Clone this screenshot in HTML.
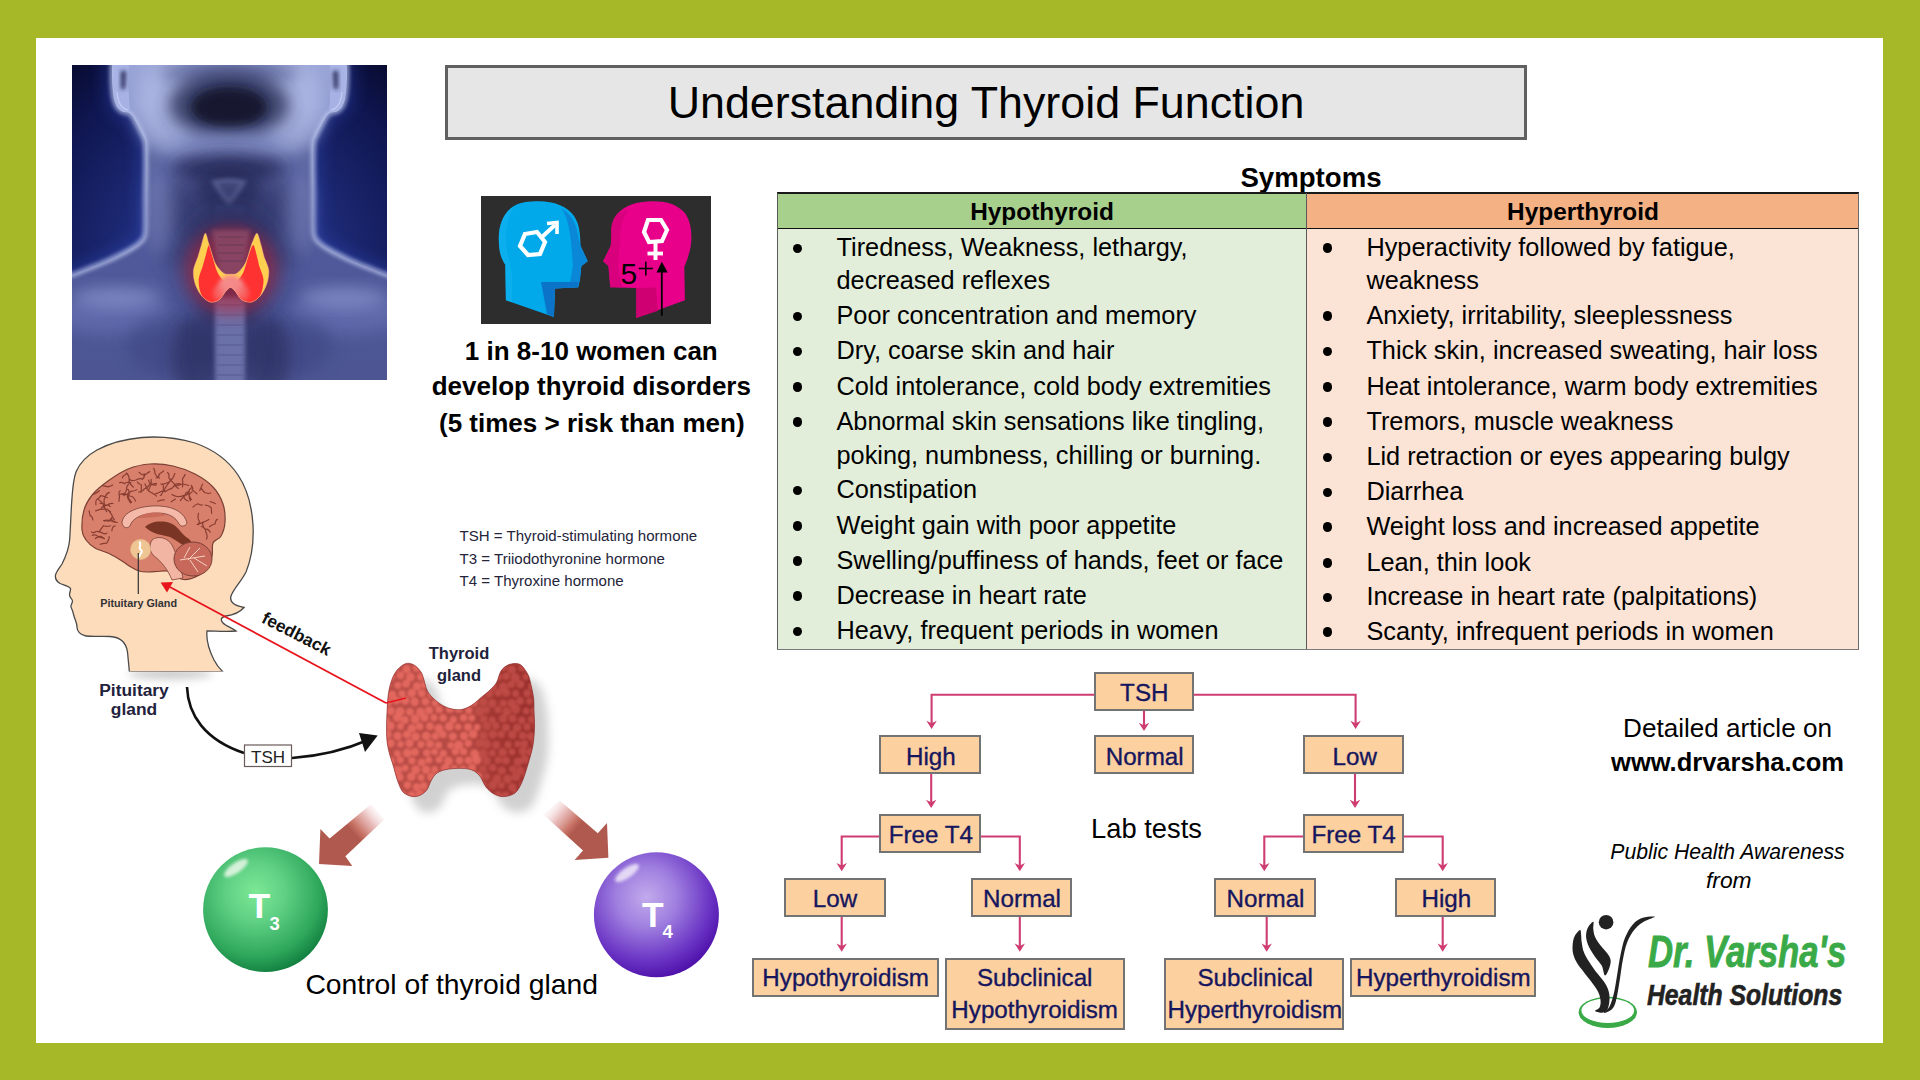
<!DOCTYPE html>
<html><head><meta charset="utf-8"><title>Understanding Thyroid Function</title>
<style>
html,body{margin:0;padding:0}
body{width:1920px;height:1080px;position:relative;overflow:hidden;background:#a6b828;font-family:"Liberation Sans", sans-serif;color:#000}
.t{position:absolute;white-space:nowrap}
.bl{position:absolute;width:9.8px;height:9.8px;border-radius:50%;background:#000}
</style></head><body>
<div style="position:absolute;left:36px;top:38px;width:1847px;height:1005px;background:#fff"></div>
<svg width="315" height="315" viewBox="0 0 315 315" style="position:absolute;left:72px;top:65px"><defs>
<radialGradient id="pbg" cx="0.5" cy="0.62" r="0.8"><stop offset="0" stop-color="#2a3c98"/><stop offset="0.45" stop-color="#1c2872"/><stop offset="0.8" stop-color="#0f1650"/><stop offset="1" stop-color="#080b30"/></radialGradient>
<linearGradient id="pbody" x1="0" y1="0" x2="0" y2="1"><stop offset="0" stop-color="#a3addc"/><stop offset="0.2" stop-color="#8e99cf"/><stop offset="0.33" stop-color="#5f69a3"/><stop offset="0.6" stop-color="#50599a"/><stop offset="1" stop-color="#4c5591"/></linearGradient>
<filter id="b2" x="-50%" y="-50%" width="200%" height="200%"><feGaussianBlur stdDeviation="2"/></filter>
<filter id="b4" x="-50%" y="-50%" width="200%" height="200%"><feGaussianBlur stdDeviation="4"/></filter>
<filter id="b8" x="-50%" y="-50%" width="200%" height="200%"><feGaussianBlur stdDeviation="8"/></filter>
<filter id="b12" x="-50%" y="-50%" width="200%" height="200%"><feGaussianBlur stdDeviation="12"/></filter>
<clipPath id="pclip"><rect width="315" height="315"/></clipPath>
</defs><g clip-path="url(#pclip)"><rect width="315" height="315" fill="url(#pbg)"/><path d="M40.5,-30.0 C13.2,-27.4 40.6,-12.4 40.5,-8.0 C40.4,-3.6 40.0,4.5 40.0,8.0 C40.0,11.5 40.3,19.0 40.5,22.0 C40.7,25.0 41.5,31.7 42.0,34.0 C42.5,36.3 44.1,40.5 45.0,42.0 C45.9,43.5 48.6,45.8 50.0,46.5 C51.4,47.2 55.7,47.4 57.0,48.0 C58.3,48.6 60.0,50.5 61.0,52.0 C62.0,53.5 64.8,58.8 66.0,61.0 C67.2,63.2 70.1,68.8 71.0,71.0 C71.9,73.2 73.2,73.1 73.5,80.0 C73.8,86.9 73.6,119.5 73.5,130.0 C73.4,140.5 74.3,163.9 73.0,170.0 C71.7,176.1 66.4,179.0 62.0,182.0 C57.6,185.0 42.2,192.7 35.0,196.0 C27.8,199.3 5.2,207.8 0.0,210.0 C-5.2,212.2 -8.8,201.0 -10.0,215.0 C-11.2,229.0 -49.1,316.6 -10.0,330.0 C29.1,343.4 285.9,343.4 325.0,330.0 C364.1,316.6 326.2,229.0 325.0,215.0 C323.8,201.0 320.2,212.2 315.0,210.0 C309.8,207.8 287.2,199.3 280.0,196.0 C272.8,192.7 257.4,185.0 253.0,182.0 C248.6,179.0 243.3,176.1 242.0,170.0 C240.7,163.9 241.6,140.5 241.5,130.0 C241.4,119.5 241.2,86.9 241.5,80.0 C241.8,73.1 243.1,73.2 244.0,71.0 C244.9,68.8 247.8,63.2 249.0,61.0 C250.2,58.8 252.9,53.5 254.0,52.0 C255.1,50.5 256.7,48.6 258.0,48.0 C259.3,47.4 263.6,47.2 265.0,46.5 C266.4,45.8 269.1,43.5 270.0,42.0 C270.9,40.5 272.5,36.3 273.0,34.0 C273.5,31.7 274.3,25.0 274.5,22.0 C274.7,19.0 275.0,11.5 275.0,8.0 C275.0,4.5 274.6,-3.6 274.5,-8.0 C274.4,-12.4 301.8,-27.4 274.5,-30.0 C247.2,-32.6 67.8,-32.6 40.5,-30.0 Z" fill="none" stroke="#3450c8" stroke-width="14" opacity="0.38" filter="url(#b8)"/><path d="M40.5,-30.0 C13.2,-27.4 40.6,-12.4 40.5,-8.0 C40.4,-3.6 40.0,4.5 40.0,8.0 C40.0,11.5 40.3,19.0 40.5,22.0 C40.7,25.0 41.5,31.7 42.0,34.0 C42.5,36.3 44.1,40.5 45.0,42.0 C45.9,43.5 48.6,45.8 50.0,46.5 C51.4,47.2 55.7,47.4 57.0,48.0 C58.3,48.6 60.0,50.5 61.0,52.0 C62.0,53.5 64.8,58.8 66.0,61.0 C67.2,63.2 70.1,68.8 71.0,71.0 C71.9,73.2 73.2,73.1 73.5,80.0 C73.8,86.9 73.6,119.5 73.5,130.0 C73.4,140.5 74.3,163.9 73.0,170.0 C71.7,176.1 66.4,179.0 62.0,182.0 C57.6,185.0 42.2,192.7 35.0,196.0 C27.8,199.3 5.2,207.8 0.0,210.0 C-5.2,212.2 -8.8,201.0 -10.0,215.0 C-11.2,229.0 -49.1,316.6 -10.0,330.0 C29.1,343.4 285.9,343.4 325.0,330.0 C364.1,316.6 326.2,229.0 325.0,215.0 C323.8,201.0 320.2,212.2 315.0,210.0 C309.8,207.8 287.2,199.3 280.0,196.0 C272.8,192.7 257.4,185.0 253.0,182.0 C248.6,179.0 243.3,176.1 242.0,170.0 C240.7,163.9 241.6,140.5 241.5,130.0 C241.4,119.5 241.2,86.9 241.5,80.0 C241.8,73.1 243.1,73.2 244.0,71.0 C244.9,68.8 247.8,63.2 249.0,61.0 C250.2,58.8 252.9,53.5 254.0,52.0 C255.1,50.5 256.7,48.6 258.0,48.0 C259.3,47.4 263.6,47.2 265.0,46.5 C266.4,45.8 269.1,43.5 270.0,42.0 C270.9,40.5 272.5,36.3 273.0,34.0 C273.5,31.7 274.3,25.0 274.5,22.0 C274.7,19.0 275.0,11.5 275.0,8.0 C275.0,4.5 274.6,-3.6 274.5,-8.0 C274.4,-12.4 301.8,-27.4 274.5,-30.0 C247.2,-32.6 67.8,-32.6 40.5,-30.0 Z" fill="url(#pbody)"/><path d="M40.5,-30.0 C13.2,-27.4 40.6,-12.4 40.5,-8.0 C40.4,-3.6 40.0,4.5 40.0,8.0 C40.0,11.5 40.3,19.0 40.5,22.0 C40.7,25.0 41.5,31.7 42.0,34.0 C42.5,36.3 44.1,40.5 45.0,42.0 C45.9,43.5 48.6,45.8 50.0,46.5 C51.4,47.2 55.7,47.4 57.0,48.0 C58.3,48.6 60.0,50.5 61.0,52.0 C62.0,53.5 64.8,58.8 66.0,61.0 C67.2,63.2 70.1,68.8 71.0,71.0 C71.9,73.2 73.2,73.1 73.5,80.0 C73.8,86.9 73.6,119.5 73.5,130.0 C73.4,140.5 74.3,163.9 73.0,170.0 C71.7,176.1 66.4,179.0 62.0,182.0 C57.6,185.0 42.2,192.7 35.0,196.0 C27.8,199.3 5.2,207.8 0.0,210.0 C-5.2,212.2 -8.8,201.0 -10.0,215.0 C-11.2,229.0 -49.1,316.6 -10.0,330.0 C29.1,343.4 285.9,343.4 325.0,330.0 C364.1,316.6 326.2,229.0 325.0,215.0 C323.8,201.0 320.2,212.2 315.0,210.0 C309.8,207.8 287.2,199.3 280.0,196.0 C272.8,192.7 257.4,185.0 253.0,182.0 C248.6,179.0 243.3,176.1 242.0,170.0 C240.7,163.9 241.6,140.5 241.5,130.0 C241.4,119.5 241.2,86.9 241.5,80.0 C241.8,73.1 243.1,73.2 244.0,71.0 C244.9,68.8 247.8,63.2 249.0,61.0 C250.2,58.8 252.9,53.5 254.0,52.0 C255.1,50.5 256.7,48.6 258.0,48.0 C259.3,47.4 263.6,47.2 265.0,46.5 C266.4,45.8 269.1,43.5 270.0,42.0 C270.9,40.5 272.5,36.3 273.0,34.0 C273.5,31.7 274.3,25.0 274.5,22.0 C274.7,19.0 275.0,11.5 275.0,8.0 C275.0,4.5 274.6,-3.6 274.5,-8.0 C274.4,-12.4 301.8,-27.4 274.5,-30.0 C247.2,-32.6 67.8,-32.6 40.5,-30.0 Z" fill="none" stroke="#d0dafc" stroke-width="4" opacity="0.8" filter="url(#b2)"/><ellipse cx="95" cy="40" rx="32" ry="45" fill="#b8c2ea" opacity="0.6" filter="url(#b8)"/><ellipse cx="220" cy="40" rx="32" ry="45" fill="#b8c2ea" opacity="0.6" filter="url(#b8)"/><ellipse cx="157" cy="8" rx="70" ry="14" fill="#4a5288" opacity="0.6" filter="url(#b8)"/><ellipse cx="157" cy="40" rx="60" ry="33" fill="#2c3058" opacity="0.85" filter="url(#b8)"/><ellipse cx="157" cy="42" rx="38" ry="20" fill="#12142e" opacity="0.95" filter="url(#b4)"/><ellipse cx="157" cy="82" rx="70" ry="14" fill="#8c97cc" opacity="0.6" filter="url(#b8)"/><ellipse cx="157" cy="104" rx="56" ry="15" fill="#262b5a" opacity="0.85" filter="url(#b8)"/><ellipse cx="105" cy="160" rx="22" ry="45" fill="#3a4278" opacity="0.6" filter="url(#b8)"/><ellipse cx="210" cy="160" rx="22" ry="45" fill="#3a4278" opacity="0.6" filter="url(#b8)"/><ellipse cx="157" cy="128" rx="32" ry="22" fill="#1e2048" opacity="0.6" filter="url(#b8)"/><path d="M139,116 Q157,111 175,116 Q168,128 157,142 Q146,128 139,116 Z" fill="#8088bc" filter="url(#b2)"/><path d="M146,119 Q157,116 168,119 Q162,127 157,134 Q152,127 146,119 Z" fill="#5a6094" filter="url(#b2)"/><rect x="143" y="140" width="30" height="40" fill="#5a62a0" opacity="0.7" filter="url(#b2)"/><ellipse cx="40" cy="250" rx="60" ry="18" fill="#6672b4" opacity="0.7" filter="url(#b8)"/><ellipse cx="275" cy="250" rx="60" ry="18" fill="#6672b4" opacity="0.7" filter="url(#b8)"/><ellipse cx="95" cy="280" rx="40" ry="30" fill="#3a4280" opacity="0.5" filter="url(#b8)"/><ellipse cx="220" cy="280" rx="40" ry="30" fill="#3a4280" opacity="0.5" filter="url(#b8)"/><ellipse cx="157" cy="145" rx="52" ry="42" fill="#262b5c" opacity="0.55" filter="url(#b12)"/><path d="M41,-2 C40,15 41,32 45,41 C48,46 53,47.5 58,47 C57,35 56,18 57,-2 Z" fill="#aab4e6" opacity="0.9"/><path d="M49,6 L54,6 L53,24 L49,24 Z" fill="#2a2f5c" filter="url(#b2)"/><path d="M45,27 C46,38 50,44 56,45" stroke="#d8e0ff" stroke-width="1.2" fill="none" opacity="0.6"/><path d="M274,-2 C275,15 274,32 270,41 C267,46 262,47.5 257,47 C258,35 259,18 258,-2 Z" fill="#aab4e6" opacity="0.9"/><path d="M266,6 L261,6 L262,24 L266,24 Z" fill="#2a2f5c" filter="url(#b2)"/><path d="M270,27 C269,38 265,44 259,45" stroke="#d8e0ff" stroke-width="1.2" fill="none" opacity="0.6"/><ellipse cx="159" cy="200" rx="48" ry="58" fill="#1c2050" opacity="0.55" filter="url(#b12)"/><ellipse cx="88" cy="150" rx="12" ry="40" fill="#8890c8" opacity="0.45" filter="url(#b8)"/><ellipse cx="228" cy="150" rx="12" ry="40" fill="#8890c8" opacity="0.45" filter="url(#b8)"/><ellipse cx="45" cy="232" rx="45" ry="10" fill="#9aa4dc" opacity="0.55" filter="url(#b8)"/><ellipse cx="272" cy="232" rx="45" ry="10" fill="#9aa4dc" opacity="0.55" filter="url(#b8)"/><ellipse cx="122" cy="292" rx="22" ry="40" fill="#262a58" opacity="0.6" filter="url(#b8)"/><ellipse cx="196" cy="292" rx="22" ry="40" fill="#262a58" opacity="0.6" filter="url(#b8)"/><ellipse cx="157" cy="270" rx="30" ry="60" fill="#2a2f60" opacity="0.6" filter="url(#b8)"/><rect x="143" y="232" width="30" height="90" rx="8" fill="#6a70a8" filter="url(#b2)"/><line x1="144" y1="240" x2="172" y2="240" stroke="#5a5f98" stroke-width="2" opacity="0.6"/><line x1="144" y1="250" x2="172" y2="250" stroke="#5a5f98" stroke-width="2" opacity="0.6"/><line x1="144" y1="260" x2="172" y2="260" stroke="#5a5f98" stroke-width="2" opacity="0.6"/><line x1="144" y1="270" x2="172" y2="270" stroke="#5a5f98" stroke-width="2" opacity="0.6"/><line x1="144" y1="280" x2="172" y2="280" stroke="#5a5f98" stroke-width="2" opacity="0.6"/><line x1="144" y1="290" x2="172" y2="290" stroke="#5a5f98" stroke-width="2" opacity="0.6"/><line x1="144" y1="300" x2="172" y2="300" stroke="#5a5f98" stroke-width="2" opacity="0.6"/><line x1="144" y1="310" x2="172" y2="310" stroke="#5a5f98" stroke-width="2" opacity="0.6"/><ellipse cx="159" cy="205" rx="46" ry="44" fill="#c02030" opacity="0.55" filter="url(#b8)"/><path d="M140,165 L178,165 L170,212 L148,212 Z" fill="#8a4a66" opacity="0.85" filter="url(#b2)"/><line x1="146" y1="172" x2="172" y2="172" stroke="#6a3a58" stroke-width="1.5" opacity="0.7"/><line x1="146" y1="180" x2="172" y2="180" stroke="#6a3a58" stroke-width="1.5" opacity="0.7"/><line x1="146" y1="188" x2="172" y2="188" stroke="#6a3a58" stroke-width="1.5" opacity="0.7"/><line x1="146" y1="196" x2="172" y2="196" stroke="#6a3a58" stroke-width="1.5" opacity="0.7"/><clipPath id="bfc"><path d="M133.3,168.3 C134.4,168.0 135.2,173.8 136.7,178.3 C138.2,182.8 141.1,193.8 143.3,198.3 C145.6,202.8 149.4,206.7 151.7,208.3 C153.9,209.9 156.3,209.2 158.3,209.2 C160.3,209.2 162.8,209.9 165.0,208.3 C167.2,206.7 171.1,202.8 173.3,198.3 C175.6,193.8 178.2,182.8 180.0,178.3 C181.8,173.8 183.7,168.0 185.0,168.3 C186.3,168.6 187.9,176.5 189.0,180.0 C190.1,183.5 190.8,187.9 192.0,191.7 C193.2,195.4 196.2,201.0 196.7,205.0 C197.1,209.0 196.2,214.6 195.0,218.3 C193.8,222.1 191.2,227.2 189.0,230.0 C186.8,232.8 182.8,236.2 180.0,237.0 C177.2,237.8 172.6,236.7 170.0,235.0 C167.4,233.3 164.7,227.9 163.0,226.0 C161.3,224.1 159.8,222.5 158.5,222.5 C157.2,222.5 155.7,224.1 154.0,226.0 C152.3,227.9 149.4,233.3 147.0,235.0 C144.6,236.7 140.7,237.8 138.0,237.0 C135.3,236.2 131.2,232.8 129.0,230.0 C126.8,227.2 124.1,222.1 123.0,218.3 C121.9,214.6 121.0,209.0 121.5,205.0 C122.0,201.0 124.8,195.4 126.0,191.7 C127.2,187.9 128.4,183.5 129.5,180.0 C130.6,176.5 132.2,168.6 133.3,168.3 Z"/></clipPath><path d="M133.3,168.3 C134.4,168.0 135.2,173.8 136.7,178.3 C138.2,182.8 141.1,193.8 143.3,198.3 C145.6,202.8 149.4,206.7 151.7,208.3 C153.9,209.9 156.3,209.2 158.3,209.2 C160.3,209.2 162.8,209.9 165.0,208.3 C167.2,206.7 171.1,202.8 173.3,198.3 C175.6,193.8 178.2,182.8 180.0,178.3 C181.8,173.8 183.7,168.0 185.0,168.3 C186.3,168.6 187.9,176.5 189.0,180.0 C190.1,183.5 190.8,187.9 192.0,191.7 C193.2,195.4 196.2,201.0 196.7,205.0 C197.1,209.0 196.2,214.6 195.0,218.3 C193.8,222.1 191.2,227.2 189.0,230.0 C186.8,232.8 182.8,236.2 180.0,237.0 C177.2,237.8 172.6,236.7 170.0,235.0 C167.4,233.3 164.7,227.9 163.0,226.0 C161.3,224.1 159.8,222.5 158.5,222.5 C157.2,222.5 155.7,224.1 154.0,226.0 C152.3,227.9 149.4,233.3 147.0,235.0 C144.6,236.7 140.7,237.8 138.0,237.0 C135.3,236.2 131.2,232.8 129.0,230.0 C126.8,227.2 124.1,222.1 123.0,218.3 C121.9,214.6 121.0,209.0 121.5,205.0 C122.0,201.0 124.8,195.4 126.0,191.7 C127.2,187.9 128.4,183.5 129.5,180.0 C130.6,176.5 132.2,168.6 133.3,168.3 Z" fill="#ffd050"/><g clip-path="url(#bfc)"><path d="M133.3,168.3 C134.4,168.0 135.2,173.8 136.7,178.3 C138.2,182.8 141.1,193.8 143.3,198.3 C145.6,202.8 149.4,206.7 151.7,208.3 C153.9,209.9 156.3,209.2 158.3,209.2 C160.3,209.2 162.8,209.9 165.0,208.3 C167.2,206.7 171.1,202.8 173.3,198.3 C175.6,193.8 178.2,182.8 180.0,178.3 C181.8,173.8 183.7,168.0 185.0,168.3 C186.3,168.6 187.9,176.5 189.0,180.0 C190.1,183.5 190.8,187.9 192.0,191.7 C193.2,195.4 196.2,201.0 196.7,205.0 C197.1,209.0 196.2,214.6 195.0,218.3 C193.8,222.1 191.2,227.2 189.0,230.0 C186.8,232.8 182.8,236.2 180.0,237.0 C177.2,237.8 172.6,236.7 170.0,235.0 C167.4,233.3 164.7,227.9 163.0,226.0 C161.3,224.1 159.8,222.5 158.5,222.5 C157.2,222.5 155.7,224.1 154.0,226.0 C152.3,227.9 149.4,233.3 147.0,235.0 C144.6,236.7 140.7,237.8 138.0,237.0 C135.3,236.2 131.2,232.8 129.0,230.0 C126.8,227.2 124.1,222.1 123.0,218.3 C121.9,214.6 121.0,209.0 121.5,205.0 C122.0,201.0 124.8,195.4 126.0,191.7 C127.2,187.9 128.4,183.5 129.5,180.0 C130.6,176.5 132.2,168.6 133.3,168.3 Z" fill="#ff3232" transform="translate(159,222) scale(0.86,0.92) translate(-159,-214)"/><ellipse cx="159" cy="222" rx="13" ry="12" fill="#f58a8a" filter="url(#b2)"/><ellipse cx="147" cy="228" rx="6" ry="8" fill="#f47070" opacity="0.7" filter="url(#b2)"/><ellipse cx="171" cy="228" rx="6" ry="8" fill="#f47070" opacity="0.7" filter="url(#b2)"/></g><path d="M133.3,168.3 C134.4,168.0 135.2,173.8 136.7,178.3 C138.2,182.8 141.1,193.8 143.3,198.3 C145.6,202.8 149.4,206.7 151.7,208.3 C153.9,209.9 156.3,209.2 158.3,209.2 C160.3,209.2 162.8,209.9 165.0,208.3 C167.2,206.7 171.1,202.8 173.3,198.3 C175.6,193.8 178.2,182.8 180.0,178.3 C181.8,173.8 183.7,168.0 185.0,168.3 C186.3,168.6 187.9,176.5 189.0,180.0 C190.1,183.5 190.8,187.9 192.0,191.7 C193.2,195.4 196.2,201.0 196.7,205.0 C197.1,209.0 196.2,214.6 195.0,218.3 C193.8,222.1 191.2,227.2 189.0,230.0 C186.8,232.8 182.8,236.2 180.0,237.0 C177.2,237.8 172.6,236.7 170.0,235.0 C167.4,233.3 164.7,227.9 163.0,226.0 C161.3,224.1 159.8,222.5 158.5,222.5 C157.2,222.5 155.7,224.1 154.0,226.0 C152.3,227.9 149.4,233.3 147.0,235.0 C144.6,236.7 140.7,237.8 138.0,237.0 C135.3,236.2 131.2,232.8 129.0,230.0 C126.8,227.2 124.1,222.1 123.0,218.3 C121.9,214.6 121.0,209.0 121.5,205.0 C122.0,201.0 124.8,195.4 126.0,191.7 C127.2,187.9 128.4,183.5 129.5,180.0 C130.6,176.5 132.2,168.6 133.3,168.3 Z" fill="none" stroke="#ffb090" stroke-width="0.8" opacity="0.6"/></g></svg>
<svg width="230" height="128" viewBox="0 0 230 128" style="position:absolute;left:481px;top:196px"><rect width="230" height="128" fill="#2e2d2d"/><path d="M57,5.3 C72,5 86,10 93,20 C99,29 99,38 99.6,50 L106.7,65.2 L101,69.5 L100.2,71.1 L99,83 L97.2,91.3 L74.1,92.5 L72.9,121 L24.9,104.3 L24.3,68.8 C20,62 18,56 17.8,44 C17.5,28 23,16 33,10 C40,6 48,5.3 57,5.3 Z" fill="#02a9ea"/><path d="M80,12 C90,18 96,28 97,40 L99.6,50 L106.7,65.2 L101,69.5 L100.2,71.1 L99,83 L97.2,91.3 L88,91.8 L92,70 L90,45 C88,30 86,20 80,12 Z" fill="#0b87d8"/><path d="M60,86 L97,86 L97.2,91.3 L74.1,92.5 L72.9,121 L66,118 Z" fill="#0b74c8"/><path d="M24.9,104.3 L24.3,68.8 C20,62 18,56 17.8,44 C17.5,28 23,16 33,10 C27,22 24,34 25,48 C26,60 30,68 31,80 L31,106 Z" fill="#12b4f0" opacity="0.6"/><polygon points="44,38 56,36 64,46 59,58 47,59 39,50" fill="none" stroke="#fff" stroke-width="4.2" stroke-linejoin="miter"/><line x1="61" y1="41" x2="74" y2="29" stroke="#fff" stroke-width="4"/><path d="M66,27.5 L76,26.5 L76,38" fill="none" stroke="#fff" stroke-width="3.6"/><g transform="translate(115,0)"><path d="M56.9,5.3 C42,5.3 30,9 22,17 C16,24 15,30 15.4,38 L14.8,49.8 L7.1,65.2 L12.4,70 L13.6,83 L14.2,91.3 L40.3,91.9 L40.3,122.1 L88.9,104.3 L88.3,71.1 C92,62 95.4,52 95.4,42 C95.4,30 93,22 88,16 C80,8 70,5.3 56.9,5.3 Z" fill="#e8008a"/><path d="M22,17 C16,24 15,30 15.4,38 L14.8,49.8 L7.1,65.2 L12.4,70 L13.6,83 L14.2,91.3 L26,91.5 L22,70 L24,45 C24,32 26,24 32,14 Z" fill="#d4007a" opacity="0.8"/><path d="M40.3,91.9 L60,91.5 L62,115 L40.3,122.1 Z" fill="#c8006a" opacity="0.8"/><polygon points="52,24 65,24 71,34 66,45 53,46 48,36" fill="none" stroke="#fff" stroke-width="4.2"/><line x1="59.5" y1="47" x2="59.5" y2="64" stroke="#fff" stroke-width="4"/><line x1="51.5" y1="57.5" x2="67" y2="57.5" stroke="#fff" stroke-width="3.8"/><text x="24.5" y="88.3" font-family="'Liberation Sans', sans-serif" font-size="30" fill="#000">5</text><line x1="42.7" y1="72.5" x2="56.9" y2="72.5" stroke="#000" stroke-width="1.6"/><line x1="49.8" y1="65.8" x2="49.8" y2="79.4" stroke="#000" stroke-width="1.6"/><line x1="65.8" y1="119.7" x2="65.8" y2="74" stroke="#000" stroke-width="1.8"/><path d="M60.5,76.5 L65.8,65.8 L71.7,76.5 Z" fill="#000"/></g></svg>
<svg width="1920" height="1080" style="position:absolute;left:0;top:0"><defs><clipPath id="hclip"><rect x="0" y="0" width="400" height="671.4"/></clipPath><filter id="hsh" x="-50%" y="-100%" width="200%" height="300%"><feGaussianBlur stdDeviation="4"/></filter></defs><ellipse cx="170" cy="674" rx="42" ry="5" fill="#9a9a9a" opacity="0.55" filter="url(#hsh)"/><path d="M129.4,671.7 L127.5,652 C126,642 120,637 110,636.5 C100,636 92,637 86,636 C80,635 77,631 77,627 C77,623 75,620 74,616 C73,612 72,609 71,607 C70.5,605 72.5,603 72.5,601 C72.5,599 69.5,597.5 69.5,595 C69.5,592 71,590 70.5,588.5 C69,586 63,585 60,583.5 C56,581 55,578 55.5,575 C56.5,571 60,567 62,564 C66,556 69,548 69.6,540 C70.5,528 71,512 71.7,502 C72.5,490 73,480 76,472 C80,462 88,455 97,450 C110,443 125,439 142,437.5 C160,436 178,438 195,443 C212,449 228,460 238,475 C248,490 252,508 253,525 C254,545 251,560 246,572 C241,582 234,588 231,596 C229,603 236,606 244,607.5 C240,612 234,615 226,616 C221,617 220,620 223,623 C226,626 232,628 236,631 C228,632 215,631 207,631 C206,640 209,650 214,660 C217,666 220,669 222.8,671.7 Z" fill="#fddcbc" stroke="#4a4a4a" stroke-width="1.3" clip-path="url(#hclip)"/><path d="M82.0,530.0 C81.7,525.0 82.2,516.0 84.0,510.0 C85.8,504.0 89.0,498.8 93.0,494.0 C97.0,489.2 102.2,485.2 108.0,481.0 C113.8,476.8 121.0,471.8 128.0,469.0 C135.0,466.2 142.5,464.5 150.0,464.0 C157.5,463.5 165.5,464.3 173.0,466.0 C180.5,467.7 188.3,470.5 195.0,474.0 C201.7,477.5 208.3,482.0 213.0,487.0 C217.7,492.0 221.0,498.2 223.0,504.0 C225.0,509.8 225.3,516.7 225.0,522.0 C224.7,527.3 223.0,532.5 221.0,536.0 C219.0,539.5 214.5,539.7 213.0,543.0 C211.5,546.3 213.2,551.7 212.0,556.0 C210.8,560.3 209.2,565.3 206.0,569.0 C202.8,572.7 197.2,576.3 193.0,578.0 C188.8,579.7 184.3,579.8 181.0,579.0 C177.7,578.2 175.5,574.3 173.0,573.0 C170.5,571.7 168.7,571.2 166.0,571.0 C163.3,570.8 160.0,571.3 157.0,571.5 C154.0,571.7 151.0,572.1 148.0,572.0 C145.0,571.9 141.8,571.8 139.0,571.0 C136.2,570.2 133.8,568.7 131.0,567.0 C128.2,565.3 125.5,563.2 122.0,561.0 C118.5,558.8 114.5,556.2 110.0,554.0 C105.5,551.8 99.0,550.3 95.0,548.0 C91.0,545.7 88.2,543.0 86.0,540.0 C83.8,537.0 82.3,535.0 82.0,530.0 Z" fill="#d9806d" stroke="#7a4034" stroke-width="1.2"/><path d="M93.1,493.8 M96.0,505.0 Q95.4,500.5 96.6,499.8 Q100.1,497.3 100.6,495.7 Q101.7,495.4 107.3,497.7 M95.5,510.8 Q97.1,510.6 101.4,508.9 Q101.3,506.7 105.5,505.4 Q108.7,504.0 110.2,506.8 M92.8,519.9 Q92.5,516.1 90.1,515.6 Q89.3,512.0 89.1,510.9 M91.6,531.8 Q92.5,533.9 96.2,531.6 Q97.2,530.7 102.3,532.9 Q105.0,534.5 106.8,533.2 M92.3,535.4 Q95.6,534.2 97.9,536.3 Q99.5,537.0 104.4,538.7 M99.3,490.7 Q95.4,493.8 93.6,494.1 M100.1,503.3 Q103.6,502.7 106.0,505.7 Q110.6,502.7 113.0,503.5 M101.5,509.5 Q103.0,508.8 107.7,509.4 Q110.6,513.1 112.2,515.3 Q111.2,515.4 114.4,519.7 M104.5,521.2 Q104.9,520.4 109.2,521.2 Q110.5,518.8 112.2,517.6 M99.3,531.6 Q100.7,529.5 103.5,525.7 Q106.7,527.1 110.6,525.8 M104.2,538.4 Q100.3,535.6 100.2,536.3 Q97.4,536.6 95.4,538.5 M112.7,485.0 Q110.9,486.0 108.1,486.9 Q107.3,486.3 102.7,485.8 M109.4,492.4 Q105.9,493.7 104.9,497.5 Q103.4,499.5 104.5,504.7 Q103.5,506.2 106.6,511.6 M113.9,503.9 M110.5,511.8 Q107.9,509.3 104.3,508.5 Q103.9,506.7 102.7,503.4 Q101.3,501.8 98.6,499.6 M111.8,519.4 Q111.9,521.3 116.0,522.1 M111.9,530.8 Q112.2,526.2 115.2,525.9 M109.1,536.6 Q109.7,538.1 106.7,543.1 Q101.8,543.5 100.2,544.3 M111.8,549.5 M122.4,477.9 Q122.8,475.7 127.4,473.5 M119.5,482.7 Q123.1,481.8 124.1,483.8 Q125.9,481.7 130.9,482.7 M120.1,494.3 Q125.1,492.7 126.1,494.7 Q127.6,494.0 131.1,491.3 Q135.5,490.7 136.9,489.6 M118.9,501.3 Q119.4,497.8 119.5,496.4 Q118.2,491.4 120.2,490.7 M117.3,522.5 Q112.2,521.8 110.9,520.8 Q109.1,519.7 103.5,520.5 M126.1,473.2 Q128.2,473.8 129.1,477.9 Q129.2,479.2 129.2,482.7 Q131.0,484.4 133.3,487.2 M128.5,484.2 Q126.3,485.8 126.6,490.0 Q123.8,494.7 124.2,495.7 M129.8,492.1 Q129.8,493.0 127.3,496.5 Q127.3,497.9 130.5,502.9 M131.6,502.3 Q127.9,498.1 128.4,496.6 Q130.2,491.3 127.8,489.3 M140.0,468.9 M139.1,472.5 Q141.4,474.4 144.3,475.5 Q148.5,472.1 149.6,471.6 M137.4,482.2 Q140.9,485.2 141.3,484.9 Q141.5,487.2 141.1,492.2 M138.5,492.0 Q142.7,491.8 144.4,488.8 Q148.7,487.2 149.7,484.0 Q152.7,484.6 156.5,483.4 M135.4,501.1 Q134.4,496.6 129.9,496.0 Q125.4,494.1 122.6,494.6 M144.1,473.6 Q145.3,476.7 142.4,479.3 Q140.6,477.8 136.0,480.0 Q130.6,481.4 129.3,479.1 M145.0,483.8 Q145.9,486.7 147.5,489.6 Q148.9,491.5 152.0,493.0 Q156.1,495.3 156.4,496.1 M148.5,490.2 Q150.6,485.6 151.0,485.0 Q151.4,483.2 151.1,479.3 M153.7,468.2 Q155.1,470.8 155.0,473.8 Q156.9,477.2 159.5,478.2 M156.2,478.0 Q159.4,477.3 159.1,474.1 Q160.4,473.3 163.6,470.9 M156.4,484.6 Q155.9,486.1 151.2,484.1 Q148.0,481.1 148.7,480.2 M155.6,493.7 Q158.5,493.1 160.0,492.0 Q162.7,490.5 165.6,491.6 Q170.1,488.3 171.7,488.7 M167.3,472.5 Q169.5,473.1 168.9,478.1 Q171.9,481.6 173.9,483.4 Q175.5,487.6 178.6,488.3 M163.3,484.9 Q163.6,489.6 163.0,490.8 Q161.8,495.3 160.4,495.4 M164.7,491.3 Q163.9,488.9 167.3,484.8 Q170.2,481.3 171.0,479.0 M164.3,499.9 Q162.7,499.7 157.7,501.3 M174.9,473.5 Q172.9,478.1 172.4,478.6 Q170.3,481.5 167.9,482.5 Q163.9,484.7 160.8,484.0 M175.0,486.1 Q179.2,485.2 182.1,484.0 Q185.1,484.4 188.8,485.5 M171.9,494.4 Q173.9,495.6 176.9,496.5 Q180.3,497.0 184.0,495.4 Q187.9,495.7 188.0,492.5 M175.5,499.1 Q172.8,500.9 171.2,501.8 M185.2,474.4 Q183.9,476.9 182.4,479.3 Q183.1,481.9 182.5,486.8 M180.1,483.8 Q175.5,483.2 174.0,485.7 Q173.7,487.5 170.1,489.2 M183.8,496.0 Q183.9,499.9 188.4,501.0 M180.5,500.6 Q180.8,499.3 184.9,495.7 Q185.0,492.3 189.3,491.6 M189.8,476.0 M191.3,485.3 Q193.8,488.8 192.1,489.7 Q193.6,491.2 197.0,493.7 M192.2,491.8 Q189.4,493.1 189.2,495.5 Q188.9,498.0 190.6,500.7 M191.3,499.6 Q188.7,496.1 188.8,493.5 Q188.3,489.4 191.5,487.7 M194.5,528.6 M200.1,484.9 M199.8,490.6 Q201.4,486.7 202.6,484.0 M202.3,504.9 Q200.8,505.5 197.9,503.7 Q195.1,504.7 193.0,507.1 M198.6,513.2 Q197.4,516.9 198.6,519.9 Q200.2,520.8 198.2,524.6 M202.5,522.4 Q202.8,527.4 205.0,528.9 Q209.1,529.2 210.2,532.3 M201.3,526.5 Q205.8,527.7 205.9,532.1 Q208.0,536.1 206.5,539.1 M201.8,539.6 M210.6,492.8 Q209.8,494.2 204.6,492.5 Q202.6,490.6 201.1,488.1 M210.2,501.6 Q213.2,502.3 215.2,503.6 M211.7,513.3 Q211.4,509.9 211.1,507.5 Q208.2,505.1 205.1,505.0 M208.8,519.4 Q207.5,520.3 202.8,522.4 Q198.5,524.1 197.0,524.5 M209.5,526.7 Q214.3,523.2 215.0,524.1 Q215.6,519.8 217.6,519.3 M218.8,518.0" fill="none" stroke="#8a3e32" stroke-width="1.2" stroke-linecap="round" stroke-linejoin="round"/><path d="M122,523 C122,512 140,505 160,506 C176,507 185,514 187,523 C185,527 181,527 179,524 C176,517 168,513 158,513 C143,513 132,518 130,526 C127,529 123,528 122,523 Z" fill="#f4b9a8" stroke="#7a4034" stroke-width="0.8"/><path d="M138,518 C145,512 158,511 166,515 C160,517 148,518 138,518 Z" fill="#c96a5a"/><path d="M145,527 C150,522 160,520 170,523 C178,526 180,532 186,537 C192,540 194,546 190,548 C183,546 176,540 170,537 C162,535 152,534 145,527 Z" fill="#7a3524"/><path d="M152,540 C158,535 168,538 172,545 C177,555 180,565 183,578 L172,580 C168,570 162,562 154,556 C149,551 149,545 152,540 Z" fill="#f3b5a3" stroke="#7a4034" stroke-width="0.8"/><ellipse cx="193" cy="559" rx="19" ry="17" fill="#c8685a" stroke="#7a4034" stroke-width="1"/><path d="M180,560 L205,556 M188,560 L200,548 M190,560 L198,572 M194,558 L207,566 M184,558 L190,547" stroke="#f6d2c2" stroke-width="1" fill="none"/><circle cx="140.6" cy="549.4" r="10" fill="#f2d29a" opacity="0.85" stroke="#e8c890" stroke-width="0.8"/><path d="M139,542 C143,544 137,548 141,550 C144,552 138,555 140,557" stroke="#fff" stroke-width="2" fill="none"/><line x1="138.3" y1="553" x2="138.3" y2="594" stroke="#333" stroke-width="1.2"/><text x="138.6" y="607.2" text-anchor="middle" font-family="'Liberation Sans', sans-serif" font-size="10.8" font-weight="bold" fill="#333">Pituitary Gland</text><defs><linearGradient id="thg" x1="0" y1="0" x2="1" y2="0"><stop offset="0" stop-color="#b84c46"/><stop offset="0.55" stop-color="#b44842"/><stop offset="0.72" stop-color="#a23632"/><stop offset="1" stop-color="#982e2c"/></linearGradient><filter id="shb" x="-30%" y="-30%" width="160%" height="160%"><feGaussianBlur stdDeviation="5"/></filter><filter id="spb" x="-30%" y="-30%" width="160%" height="160%"><feGaussianBlur stdDeviation="0.9"/></filter><clipPath id="thc"><path d="M405.2,663.8 C402.0,665.1 397.7,668.6 395.0,673.0 C392.3,677.4 390.3,683.5 389.0,690.0 C387.7,696.5 387.4,704.2 387.0,712.0 C386.6,719.8 386.4,730.1 386.7,736.8 C387.0,743.5 387.9,747.3 389.0,752.0 C390.1,756.7 391.5,760.0 393.0,765.0 C394.5,770.0 396.2,777.3 398.0,782.0 C399.8,786.7 401.1,790.6 404.0,793.0 C406.9,795.4 412.0,796.9 415.7,796.6 C419.4,796.3 423.4,793.6 426.0,791.0 C428.6,788.4 429.2,784.0 431.0,781.0 C432.8,778.0 434.0,775.0 437.0,773.0 C440.0,771.0 443.9,769.7 449.2,769.0 C454.4,768.3 463.5,768.0 468.5,769.0 C473.5,770.0 476.1,772.0 479.0,775.0 C481.9,778.0 483.5,783.8 486.0,787.0 C488.5,790.2 491.1,792.4 494.0,794.0 C496.9,795.6 500.2,796.8 503.7,796.6 C507.2,796.4 511.9,795.4 515.0,793.0 C518.0,790.6 519.8,787.0 522.0,782.0 C524.2,777.0 526.5,769.4 528.3,763.2 C530.1,757.0 532.0,750.9 533.0,745.0 C534.0,739.1 534.3,733.8 534.5,728.0 C534.7,722.2 534.1,715.0 534.0,710.0 C533.9,705.0 534.1,702.2 533.6,698.0 C533.1,693.8 531.9,688.8 531.0,685.0 C530.1,681.2 529.8,678.4 528.3,675.2 C526.8,672.0 524.0,668.0 522.0,666.0 C520.0,664.0 518.3,663.7 516.0,663.5 C513.7,663.3 510.5,663.8 508.0,665.0 C505.5,666.2 502.9,668.1 501.0,671.0 C499.1,673.9 498.5,679.0 496.7,682.2 C494.9,685.4 492.4,687.6 490.0,690.0 C487.6,692.4 485.6,693.8 482.6,696.3 C479.6,698.8 475.5,702.8 472.0,705.0 C468.5,707.2 465.2,708.9 461.5,709.5 C457.8,710.1 453.5,709.4 450.0,708.5 C446.5,707.6 443.4,705.9 440.4,704.0 C437.4,702.1 434.2,699.3 432.0,697.0 C429.8,694.7 428.3,692.8 427.0,690.0 C425.7,687.2 425.0,683.0 424.0,680.0 C423.0,677.0 422.7,674.5 421.0,672.0 C419.3,669.5 416.6,666.4 414.0,665.0 C411.4,663.6 408.4,662.5 405.2,663.8 Z"/></clipPath></defs><path d="M405.2,663.8 C402.0,665.1 397.7,668.6 395.0,673.0 C392.3,677.4 390.3,683.5 389.0,690.0 C387.7,696.5 387.4,704.2 387.0,712.0 C386.6,719.8 386.4,730.1 386.7,736.8 C387.0,743.5 387.9,747.3 389.0,752.0 C390.1,756.7 391.5,760.0 393.0,765.0 C394.5,770.0 396.2,777.3 398.0,782.0 C399.8,786.7 401.1,790.6 404.0,793.0 C406.9,795.4 412.0,796.9 415.7,796.6 C419.4,796.3 423.4,793.6 426.0,791.0 C428.6,788.4 429.2,784.0 431.0,781.0 C432.8,778.0 434.0,775.0 437.0,773.0 C440.0,771.0 443.9,769.7 449.2,769.0 C454.4,768.3 463.5,768.0 468.5,769.0 C473.5,770.0 476.1,772.0 479.0,775.0 C481.9,778.0 483.5,783.8 486.0,787.0 C488.5,790.2 491.1,792.4 494.0,794.0 C496.9,795.6 500.2,796.8 503.7,796.6 C507.2,796.4 511.9,795.4 515.0,793.0 C518.0,790.6 519.8,787.0 522.0,782.0 C524.2,777.0 526.5,769.4 528.3,763.2 C530.1,757.0 532.0,750.9 533.0,745.0 C534.0,739.1 534.3,733.8 534.5,728.0 C534.7,722.2 534.1,715.0 534.0,710.0 C533.9,705.0 534.1,702.2 533.6,698.0 C533.1,693.8 531.9,688.8 531.0,685.0 C530.1,681.2 529.8,678.4 528.3,675.2 C526.8,672.0 524.0,668.0 522.0,666.0 C520.0,664.0 518.3,663.7 516.0,663.5 C513.7,663.3 510.5,663.8 508.0,665.0 C505.5,666.2 502.9,668.1 501.0,671.0 C499.1,673.9 498.5,679.0 496.7,682.2 C494.9,685.4 492.4,687.6 490.0,690.0 C487.6,692.4 485.6,693.8 482.6,696.3 C479.6,698.8 475.5,702.8 472.0,705.0 C468.5,707.2 465.2,708.9 461.5,709.5 C457.8,710.1 453.5,709.4 450.0,708.5 C446.5,707.6 443.4,705.9 440.4,704.0 C437.4,702.1 434.2,699.3 432.0,697.0 C429.8,694.7 428.3,692.8 427.0,690.0 C425.7,687.2 425.0,683.0 424.0,680.0 C423.0,677.0 422.7,674.5 421.0,672.0 C419.3,669.5 416.6,666.4 414.0,665.0 C411.4,663.6 408.4,662.5 405.2,663.8 Z" fill="#9a9a9a" opacity="0.45" transform="translate(14,16)" filter="url(#shb)"/><path d="M405.2,663.8 C402.0,665.1 397.7,668.6 395.0,673.0 C392.3,677.4 390.3,683.5 389.0,690.0 C387.7,696.5 387.4,704.2 387.0,712.0 C386.6,719.8 386.4,730.1 386.7,736.8 C387.0,743.5 387.9,747.3 389.0,752.0 C390.1,756.7 391.5,760.0 393.0,765.0 C394.5,770.0 396.2,777.3 398.0,782.0 C399.8,786.7 401.1,790.6 404.0,793.0 C406.9,795.4 412.0,796.9 415.7,796.6 C419.4,796.3 423.4,793.6 426.0,791.0 C428.6,788.4 429.2,784.0 431.0,781.0 C432.8,778.0 434.0,775.0 437.0,773.0 C440.0,771.0 443.9,769.7 449.2,769.0 C454.4,768.3 463.5,768.0 468.5,769.0 C473.5,770.0 476.1,772.0 479.0,775.0 C481.9,778.0 483.5,783.8 486.0,787.0 C488.5,790.2 491.1,792.4 494.0,794.0 C496.9,795.6 500.2,796.8 503.7,796.6 C507.2,796.4 511.9,795.4 515.0,793.0 C518.0,790.6 519.8,787.0 522.0,782.0 C524.2,777.0 526.5,769.4 528.3,763.2 C530.1,757.0 532.0,750.9 533.0,745.0 C534.0,739.1 534.3,733.8 534.5,728.0 C534.7,722.2 534.1,715.0 534.0,710.0 C533.9,705.0 534.1,702.2 533.6,698.0 C533.1,693.8 531.9,688.8 531.0,685.0 C530.1,681.2 529.8,678.4 528.3,675.2 C526.8,672.0 524.0,668.0 522.0,666.0 C520.0,664.0 518.3,663.7 516.0,663.5 C513.7,663.3 510.5,663.8 508.0,665.0 C505.5,666.2 502.9,668.1 501.0,671.0 C499.1,673.9 498.5,679.0 496.7,682.2 C494.9,685.4 492.4,687.6 490.0,690.0 C487.6,692.4 485.6,693.8 482.6,696.3 C479.6,698.8 475.5,702.8 472.0,705.0 C468.5,707.2 465.2,708.9 461.5,709.5 C457.8,710.1 453.5,709.4 450.0,708.5 C446.5,707.6 443.4,705.9 440.4,704.0 C437.4,702.1 434.2,699.3 432.0,697.0 C429.8,694.7 428.3,692.8 427.0,690.0 C425.7,687.2 425.0,683.0 424.0,680.0 C423.0,677.0 422.7,674.5 421.0,672.0 C419.3,669.5 416.6,666.4 414.0,665.0 C411.4,663.6 408.4,662.5 405.2,663.8 Z" fill="url(#thg)"/><g clip-path="url(#thc)" filter="url(#spb)"><circle cx="381.5" cy="659.0" r="4.2" fill="#ea6c63" opacity="0.85"/><circle cx="390.3" cy="660.1" r="3.8" fill="#ea6c63" opacity="0.85"/><circle cx="399.9" cy="660.0" r="3.4" fill="#ea6c63" opacity="0.85"/><circle cx="410.6" cy="658.7" r="3.5" fill="#ea6c63" opacity="0.85"/><circle cx="420.2" cy="661.0" r="3.5" fill="#ea6c63" opacity="0.85"/><circle cx="429.2" cy="660.4" r="4.5" fill="#ea6c63" opacity="0.85"/><circle cx="439.8" cy="659.7" r="4.6" fill="#ea6c63" opacity="0.85"/><circle cx="447.8" cy="661.1" r="3.7" fill="#ea6c63" opacity="0.85"/><circle cx="457.7" cy="658.9" r="3.8" fill="#ea6c63" opacity="0.85"/><circle cx="469.3" cy="659.0" r="4.1" fill="#ea6c63" opacity="0.85"/><circle cx="478.4" cy="659.6" r="4.1" fill="#ea6c63" opacity="0.85"/><circle cx="486.3" cy="658.7" r="3.6" fill="#c4504a" opacity="0.8"/><circle cx="497.7" cy="659.8" r="3.8" fill="#c4504a" opacity="0.8"/><circle cx="507.1" cy="659.9" r="3.8" fill="#c4504a" opacity="0.8"/><circle cx="517.3" cy="660.6" r="3.7" fill="#c4504a" opacity="0.8"/><circle cx="526.2" cy="660.1" r="4.5" fill="#c4504a" opacity="0.8"/><circle cx="536.3" cy="659.4" r="4.6" fill="#c4504a" opacity="0.8"/><circle cx="385.7" cy="668.2" r="4.3" fill="#ea6c63" opacity="0.85"/><circle cx="395.4" cy="668.4" r="3.4" fill="#ea6c63" opacity="0.85"/><circle cx="406.5" cy="669.2" r="4.1" fill="#ea6c63" opacity="0.85"/><circle cx="416.7" cy="667.8" r="4.2" fill="#ea6c63" opacity="0.85"/><circle cx="425.5" cy="668.6" r="3.9" fill="#ea6c63" opacity="0.85"/><circle cx="435.8" cy="669.7" r="4.0" fill="#ea6c63" opacity="0.85"/><circle cx="444.9" cy="667.1" r="4.2" fill="#ea6c63" opacity="0.85"/><circle cx="454.4" cy="669.9" r="4.4" fill="#ea6c63" opacity="0.85"/><circle cx="463.0" cy="668.1" r="4.2" fill="#ea6c63" opacity="0.85"/><circle cx="471.8" cy="668.3" r="3.6" fill="#ea6c63" opacity="0.85"/><circle cx="481.7" cy="667.1" r="4.3" fill="#c4504a" opacity="0.8"/><circle cx="491.3" cy="667.6" r="3.9" fill="#c4504a" opacity="0.8"/><circle cx="503.1" cy="667.1" r="3.9" fill="#c4504a" opacity="0.8"/><circle cx="511.7" cy="669.6" r="4.4" fill="#c4504a" opacity="0.8"/><circle cx="522.3" cy="667.7" r="3.9" fill="#c4504a" opacity="0.8"/><circle cx="530.4" cy="669.6" r="4.5" fill="#c4504a" opacity="0.8"/><circle cx="381.0" cy="675.8" r="3.7" fill="#ea6c63" opacity="0.85"/><circle cx="390.8" cy="676.8" r="4.1" fill="#ea6c63" opacity="0.85"/><circle cx="400.5" cy="675.3" r="3.9" fill="#ea6c63" opacity="0.85"/><circle cx="410.4" cy="677.0" r="4.5" fill="#ea6c63" opacity="0.85"/><circle cx="421.0" cy="676.8" r="4.1" fill="#ea6c63" opacity="0.85"/><circle cx="430.5" cy="675.5" r="4.5" fill="#ea6c63" opacity="0.85"/><circle cx="440.4" cy="677.9" r="4.4" fill="#ea6c63" opacity="0.85"/><circle cx="448.9" cy="676.5" r="3.5" fill="#ea6c63" opacity="0.85"/><circle cx="459.2" cy="675.5" r="3.5" fill="#ea6c63" opacity="0.85"/><circle cx="467.5" cy="675.8" r="3.8" fill="#ea6c63" opacity="0.85"/><circle cx="476.7" cy="675.3" r="3.6" fill="#ea6c63" opacity="0.85"/><circle cx="486.4" cy="676.4" r="3.4" fill="#c4504a" opacity="0.8"/><circle cx="498.3" cy="677.1" r="3.6" fill="#c4504a" opacity="0.8"/><circle cx="506.1" cy="676.3" r="3.8" fill="#c4504a" opacity="0.8"/><circle cx="515.3" cy="677.8" r="4.6" fill="#c4504a" opacity="0.8"/><circle cx="525.9" cy="676.8" r="3.5" fill="#c4504a" opacity="0.8"/><circle cx="534.4" cy="676.3" r="3.7" fill="#c4504a" opacity="0.8"/><circle cx="387.8" cy="684.2" r="3.4" fill="#ea6c63" opacity="0.85"/><circle cx="397.8" cy="685.3" r="3.6" fill="#ea6c63" opacity="0.85"/><circle cx="406.1" cy="683.8" r="4.0" fill="#ea6c63" opacity="0.85"/><circle cx="417.0" cy="686.3" r="4.2" fill="#ea6c63" opacity="0.85"/><circle cx="424.5" cy="684.8" r="3.6" fill="#ea6c63" opacity="0.85"/><circle cx="435.6" cy="685.3" r="4.3" fill="#ea6c63" opacity="0.85"/><circle cx="443.9" cy="684.4" r="4.4" fill="#ea6c63" opacity="0.85"/><circle cx="455.5" cy="686.3" r="4.4" fill="#ea6c63" opacity="0.85"/><circle cx="464.6" cy="685.9" r="3.7" fill="#ea6c63" opacity="0.85"/><circle cx="473.3" cy="684.8" r="3.4" fill="#ea6c63" opacity="0.85"/><circle cx="481.4" cy="684.5" r="3.7" fill="#c4504a" opacity="0.8"/><circle cx="493.0" cy="686.6" r="3.9" fill="#c4504a" opacity="0.8"/><circle cx="503.3" cy="686.7" r="4.5" fill="#c4504a" opacity="0.8"/><circle cx="511.2" cy="684.4" r="3.7" fill="#c4504a" opacity="0.8"/><circle cx="520.3" cy="684.3" r="4.1" fill="#c4504a" opacity="0.8"/><circle cx="532.0" cy="686.2" r="4.0" fill="#c4504a" opacity="0.8"/><circle cx="382.5" cy="694.5" r="3.5" fill="#ea6c63" opacity="0.85"/><circle cx="392.1" cy="694.8" r="4.3" fill="#ea6c63" opacity="0.85"/><circle cx="402.0" cy="693.5" r="3.6" fill="#ea6c63" opacity="0.85"/><circle cx="411.7" cy="693.1" r="4.4" fill="#ea6c63" opacity="0.85"/><circle cx="421.8" cy="693.3" r="3.9" fill="#ea6c63" opacity="0.85"/><circle cx="431.3" cy="694.3" r="3.6" fill="#ea6c63" opacity="0.85"/><circle cx="438.5" cy="692.6" r="4.5" fill="#ea6c63" opacity="0.85"/><circle cx="450.1" cy="692.5" r="4.4" fill="#ea6c63" opacity="0.85"/><circle cx="460.2" cy="694.1" r="3.8" fill="#ea6c63" opacity="0.85"/><circle cx="468.5" cy="692.5" r="3.4" fill="#ea6c63" opacity="0.85"/><circle cx="479.4" cy="694.0" r="4.0" fill="#c4504a" opacity="0.8"/><circle cx="488.9" cy="693.4" r="4.4" fill="#c4504a" opacity="0.8"/><circle cx="498.2" cy="692.7" r="3.7" fill="#c4504a" opacity="0.8"/><circle cx="506.2" cy="692.8" r="4.1" fill="#c4504a" opacity="0.8"/><circle cx="515.7" cy="693.4" r="3.6" fill="#c4504a" opacity="0.8"/><circle cx="527.2" cy="693.2" r="3.9" fill="#c4504a" opacity="0.8"/><circle cx="535.9" cy="694.8" r="3.9" fill="#c4504a" opacity="0.8"/><circle cx="388.1" cy="702.0" r="4.0" fill="#ea6c63" opacity="0.85"/><circle cx="396.5" cy="700.6" r="3.9" fill="#ea6c63" opacity="0.85"/><circle cx="405.0" cy="700.5" r="4.4" fill="#ea6c63" opacity="0.85"/><circle cx="414.6" cy="701.9" r="4.3" fill="#ea6c63" opacity="0.85"/><circle cx="425.4" cy="701.5" r="4.0" fill="#ea6c63" opacity="0.85"/><circle cx="435.0" cy="702.9" r="3.5" fill="#ea6c63" opacity="0.85"/><circle cx="444.6" cy="701.2" r="3.7" fill="#ea6c63" opacity="0.85"/><circle cx="454.8" cy="702.0" r="4.1" fill="#ea6c63" opacity="0.85"/><circle cx="464.4" cy="703.2" r="3.9" fill="#ea6c63" opacity="0.85"/><circle cx="473.5" cy="702.0" r="4.0" fill="#ea6c63" opacity="0.85"/><circle cx="483.4" cy="701.9" r="4.0" fill="#c4504a" opacity="0.8"/><circle cx="492.3" cy="703.3" r="4.2" fill="#c4504a" opacity="0.8"/><circle cx="503.1" cy="703.3" r="3.7" fill="#c4504a" opacity="0.8"/><circle cx="511.8" cy="703.3" r="4.4" fill="#c4504a" opacity="0.8"/><circle cx="520.1" cy="700.9" r="3.9" fill="#c4504a" opacity="0.8"/><circle cx="529.5" cy="701.2" r="3.5" fill="#c4504a" opacity="0.8"/><circle cx="382.5" cy="711.3" r="4.5" fill="#ea6c63" opacity="0.85"/><circle cx="390.6" cy="711.0" r="4.2" fill="#ea6c63" opacity="0.85"/><circle cx="400.1" cy="711.5" r="4.6" fill="#ea6c63" opacity="0.85"/><circle cx="410.0" cy="711.8" r="3.9" fill="#ea6c63" opacity="0.85"/><circle cx="420.4" cy="711.9" r="4.4" fill="#ea6c63" opacity="0.85"/><circle cx="429.0" cy="710.2" r="4.0" fill="#ea6c63" opacity="0.85"/><circle cx="439.1" cy="709.5" r="3.8" fill="#ea6c63" opacity="0.85"/><circle cx="449.9" cy="709.0" r="4.1" fill="#ea6c63" opacity="0.85"/><circle cx="458.6" cy="709.0" r="3.8" fill="#ea6c63" opacity="0.85"/><circle cx="468.8" cy="710.4" r="3.5" fill="#ea6c63" opacity="0.85"/><circle cx="479.5" cy="711.3" r="4.6" fill="#c4504a" opacity="0.8"/><circle cx="486.4" cy="709.7" r="3.4" fill="#c4504a" opacity="0.8"/><circle cx="498.0" cy="709.7" r="3.6" fill="#c4504a" opacity="0.8"/><circle cx="506.6" cy="711.6" r="4.4" fill="#c4504a" opacity="0.8"/><circle cx="515.7" cy="709.3" r="4.5" fill="#c4504a" opacity="0.8"/><circle cx="526.2" cy="711.0" r="3.5" fill="#c4504a" opacity="0.8"/><circle cx="534.3" cy="711.0" r="3.9" fill="#c4504a" opacity="0.8"/><circle cx="385.5" cy="720.1" r="4.2" fill="#ea6c63" opacity="0.85"/><circle cx="397.3" cy="717.6" r="4.4" fill="#ea6c63" opacity="0.85"/><circle cx="404.7" cy="719.9" r="3.9" fill="#ea6c63" opacity="0.85"/><circle cx="415.1" cy="719.0" r="4.5" fill="#ea6c63" opacity="0.85"/><circle cx="424.5" cy="717.7" r="4.0" fill="#ea6c63" opacity="0.85"/><circle cx="434.0" cy="717.6" r="3.6" fill="#ea6c63" opacity="0.85"/><circle cx="443.1" cy="717.9" r="3.8" fill="#ea6c63" opacity="0.85"/><circle cx="453.4" cy="719.6" r="3.7" fill="#ea6c63" opacity="0.85"/><circle cx="463.6" cy="717.8" r="3.8" fill="#ea6c63" opacity="0.85"/><circle cx="471.8" cy="718.1" r="3.4" fill="#ea6c63" opacity="0.85"/><circle cx="483.5" cy="719.0" r="3.6" fill="#c4504a" opacity="0.8"/><circle cx="492.3" cy="720.1" r="3.5" fill="#c4504a" opacity="0.8"/><circle cx="503.0" cy="718.6" r="4.0" fill="#c4504a" opacity="0.8"/><circle cx="512.6" cy="718.5" r="4.0" fill="#c4504a" opacity="0.8"/><circle cx="521.8" cy="720.2" r="3.8" fill="#c4504a" opacity="0.8"/><circle cx="531.8" cy="719.4" r="4.2" fill="#c4504a" opacity="0.8"/><circle cx="381.7" cy="726.7" r="3.5" fill="#ea6c63" opacity="0.85"/><circle cx="390.5" cy="725.9" r="4.3" fill="#ea6c63" opacity="0.85"/><circle cx="400.5" cy="726.2" r="3.5" fill="#ea6c63" opacity="0.85"/><circle cx="411.8" cy="728.3" r="4.2" fill="#ea6c63" opacity="0.85"/><circle cx="419.7" cy="726.4" r="3.8" fill="#ea6c63" opacity="0.85"/><circle cx="429.9" cy="726.2" r="3.9" fill="#ea6c63" opacity="0.85"/><circle cx="438.9" cy="728.6" r="4.6" fill="#ea6c63" opacity="0.85"/><circle cx="449.3" cy="726.4" r="4.6" fill="#ea6c63" opacity="0.85"/><circle cx="458.2" cy="726.8" r="3.4" fill="#ea6c63" opacity="0.85"/><circle cx="468.0" cy="727.1" r="4.0" fill="#ea6c63" opacity="0.85"/><circle cx="477.1" cy="727.2" r="3.4" fill="#ea6c63" opacity="0.85"/><circle cx="486.9" cy="726.0" r="3.9" fill="#c4504a" opacity="0.8"/><circle cx="495.8" cy="725.8" r="3.8" fill="#c4504a" opacity="0.8"/><circle cx="506.0" cy="727.5" r="4.0" fill="#c4504a" opacity="0.8"/><circle cx="517.2" cy="727.7" r="4.3" fill="#c4504a" opacity="0.8"/><circle cx="527.1" cy="726.9" r="3.8" fill="#c4504a" opacity="0.8"/><circle cx="537.1" cy="726.1" r="4.3" fill="#c4504a" opacity="0.8"/><circle cx="387.2" cy="734.2" r="4.4" fill="#ea6c63" opacity="0.85"/><circle cx="397.6" cy="736.0" r="4.3" fill="#ea6c63" opacity="0.85"/><circle cx="406.9" cy="734.5" r="4.0" fill="#ea6c63" opacity="0.85"/><circle cx="415.6" cy="736.6" r="4.4" fill="#ea6c63" opacity="0.85"/><circle cx="426.2" cy="735.9" r="4.5" fill="#ea6c63" opacity="0.85"/><circle cx="435.3" cy="736.2" r="3.7" fill="#ea6c63" opacity="0.85"/><circle cx="443.0" cy="734.5" r="3.8" fill="#ea6c63" opacity="0.85"/><circle cx="452.8" cy="736.6" r="4.1" fill="#ea6c63" opacity="0.85"/><circle cx="464.0" cy="736.0" r="4.2" fill="#ea6c63" opacity="0.85"/><circle cx="473.2" cy="734.1" r="4.4" fill="#ea6c63" opacity="0.85"/><circle cx="483.5" cy="735.6" r="4.0" fill="#c4504a" opacity="0.8"/><circle cx="492.9" cy="734.3" r="4.3" fill="#c4504a" opacity="0.8"/><circle cx="501.3" cy="734.3" r="3.7" fill="#c4504a" opacity="0.8"/><circle cx="512.3" cy="734.7" r="4.3" fill="#c4504a" opacity="0.8"/><circle cx="522.6" cy="735.6" r="3.9" fill="#c4504a" opacity="0.8"/><circle cx="530.7" cy="736.2" r="4.3" fill="#c4504a" opacity="0.8"/><circle cx="382.4" cy="744.4" r="3.5" fill="#ea6c63" opacity="0.85"/><circle cx="390.5" cy="743.3" r="4.3" fill="#ea6c63" opacity="0.85"/><circle cx="400.6" cy="744.2" r="3.4" fill="#ea6c63" opacity="0.85"/><circle cx="409.5" cy="743.3" r="4.2" fill="#ea6c63" opacity="0.85"/><circle cx="421.0" cy="744.5" r="3.7" fill="#ea6c63" opacity="0.85"/><circle cx="430.0" cy="743.9" r="4.0" fill="#ea6c63" opacity="0.85"/><circle cx="438.5" cy="745.2" r="3.6" fill="#ea6c63" opacity="0.85"/><circle cx="450.6" cy="745.3" r="3.4" fill="#ea6c63" opacity="0.85"/><circle cx="458.7" cy="745.0" r="4.6" fill="#ea6c63" opacity="0.85"/><circle cx="468.2" cy="743.3" r="3.7" fill="#ea6c63" opacity="0.85"/><circle cx="479.3" cy="743.1" r="4.1" fill="#c4504a" opacity="0.8"/><circle cx="486.5" cy="744.1" r="4.5" fill="#c4504a" opacity="0.8"/><circle cx="496.1" cy="745.0" r="4.0" fill="#c4504a" opacity="0.8"/><circle cx="508.0" cy="744.6" r="3.7" fill="#c4504a" opacity="0.8"/><circle cx="517.6" cy="744.0" r="3.4" fill="#c4504a" opacity="0.8"/><circle cx="524.5" cy="744.0" r="3.9" fill="#c4504a" opacity="0.8"/><circle cx="535.0" cy="742.9" r="3.8" fill="#c4504a" opacity="0.8"/><circle cx="386.2" cy="753.4" r="3.4" fill="#ea6c63" opacity="0.85"/><circle cx="397.2" cy="753.4" r="3.5" fill="#ea6c63" opacity="0.85"/><circle cx="407.3" cy="753.0" r="4.5" fill="#ea6c63" opacity="0.85"/><circle cx="415.0" cy="752.0" r="3.9" fill="#ea6c63" opacity="0.85"/><circle cx="426.7" cy="752.7" r="3.8" fill="#ea6c63" opacity="0.85"/><circle cx="434.6" cy="751.7" r="3.5" fill="#ea6c63" opacity="0.85"/><circle cx="443.2" cy="753.4" r="3.7" fill="#ea6c63" opacity="0.85"/><circle cx="455.3" cy="751.6" r="3.7" fill="#ea6c63" opacity="0.85"/><circle cx="463.6" cy="751.5" r="3.8" fill="#ea6c63" opacity="0.85"/><circle cx="474.6" cy="753.6" r="4.4" fill="#ea6c63" opacity="0.85"/><circle cx="483.2" cy="753.6" r="4.5" fill="#c4504a" opacity="0.8"/><circle cx="492.5" cy="753.1" r="3.5" fill="#c4504a" opacity="0.8"/><circle cx="502.7" cy="752.3" r="4.3" fill="#c4504a" opacity="0.8"/><circle cx="512.0" cy="751.8" r="3.5" fill="#c4504a" opacity="0.8"/><circle cx="522.5" cy="751.3" r="4.0" fill="#c4504a" opacity="0.8"/><circle cx="530.3" cy="751.8" r="4.3" fill="#c4504a" opacity="0.8"/><circle cx="383.4" cy="760.1" r="4.2" fill="#ea6c63" opacity="0.85"/><circle cx="391.0" cy="761.0" r="3.9" fill="#ea6c63" opacity="0.85"/><circle cx="400.2" cy="759.8" r="3.6" fill="#ea6c63" opacity="0.85"/><circle cx="412.0" cy="760.8" r="3.7" fill="#ea6c63" opacity="0.85"/><circle cx="421.6" cy="762.3" r="3.9" fill="#ea6c63" opacity="0.85"/><circle cx="428.9" cy="759.9" r="3.5" fill="#ea6c63" opacity="0.85"/><circle cx="439.1" cy="759.6" r="3.7" fill="#ea6c63" opacity="0.85"/><circle cx="448.5" cy="761.0" r="4.5" fill="#ea6c63" opacity="0.85"/><circle cx="459.5" cy="760.5" r="3.9" fill="#ea6c63" opacity="0.85"/><circle cx="468.5" cy="760.4" r="3.8" fill="#ea6c63" opacity="0.85"/><circle cx="476.7" cy="760.1" r="4.6" fill="#ea6c63" opacity="0.85"/><circle cx="486.5" cy="760.8" r="4.2" fill="#c4504a" opacity="0.8"/><circle cx="498.3" cy="759.9" r="3.7" fill="#c4504a" opacity="0.8"/><circle cx="506.0" cy="760.5" r="3.9" fill="#c4504a" opacity="0.8"/><circle cx="517.8" cy="761.8" r="4.4" fill="#c4504a" opacity="0.8"/><circle cx="524.6" cy="759.4" r="4.3" fill="#c4504a" opacity="0.8"/><circle cx="536.8" cy="760.7" r="4.1" fill="#c4504a" opacity="0.8"/><circle cx="385.3" cy="768.9" r="4.5" fill="#ea6c63" opacity="0.85"/><circle cx="397.4" cy="770.3" r="4.6" fill="#ea6c63" opacity="0.85"/><circle cx="405.2" cy="768.0" r="3.6" fill="#ea6c63" opacity="0.85"/><circle cx="415.7" cy="769.7" r="4.5" fill="#ea6c63" opacity="0.85"/><circle cx="425.9" cy="769.6" r="4.3" fill="#ea6c63" opacity="0.85"/><circle cx="434.7" cy="769.4" r="3.4" fill="#ea6c63" opacity="0.85"/><circle cx="445.2" cy="768.4" r="4.5" fill="#ea6c63" opacity="0.85"/><circle cx="454.4" cy="768.6" r="3.6" fill="#ea6c63" opacity="0.85"/><circle cx="462.9" cy="769.6" r="4.2" fill="#ea6c63" opacity="0.85"/><circle cx="472.0" cy="767.9" r="4.0" fill="#ea6c63" opacity="0.85"/><circle cx="483.0" cy="768.9" r="3.7" fill="#c4504a" opacity="0.8"/><circle cx="492.7" cy="767.7" r="3.8" fill="#c4504a" opacity="0.8"/><circle cx="501.9" cy="770.6" r="4.2" fill="#c4504a" opacity="0.8"/><circle cx="512.8" cy="769.1" r="3.7" fill="#c4504a" opacity="0.8"/><circle cx="520.4" cy="770.6" r="4.2" fill="#c4504a" opacity="0.8"/><circle cx="530.2" cy="767.8" r="4.0" fill="#c4504a" opacity="0.8"/><circle cx="382.5" cy="777.4" r="3.7" fill="#ea6c63" opacity="0.85"/><circle cx="392.1" cy="778.9" r="3.7" fill="#ea6c63" opacity="0.85"/><circle cx="399.8" cy="777.1" r="3.9" fill="#ea6c63" opacity="0.85"/><circle cx="411.3" cy="776.7" r="4.4" fill="#ea6c63" opacity="0.85"/><circle cx="421.1" cy="777.6" r="3.6" fill="#ea6c63" opacity="0.85"/><circle cx="431.4" cy="777.0" r="4.4" fill="#ea6c63" opacity="0.85"/><circle cx="438.8" cy="776.8" r="4.3" fill="#ea6c63" opacity="0.85"/><circle cx="448.6" cy="779.0" r="4.0" fill="#ea6c63" opacity="0.85"/><circle cx="457.9" cy="776.8" r="3.9" fill="#ea6c63" opacity="0.85"/><circle cx="468.9" cy="778.9" r="3.6" fill="#ea6c63" opacity="0.85"/><circle cx="477.7" cy="776.7" r="4.6" fill="#ea6c63" opacity="0.85"/><circle cx="486.5" cy="776.3" r="3.5" fill="#c4504a" opacity="0.8"/><circle cx="496.9" cy="778.8" r="4.5" fill="#c4504a" opacity="0.8"/><circle cx="507.5" cy="779.1" r="4.5" fill="#c4504a" opacity="0.8"/><circle cx="515.9" cy="776.7" r="4.5" fill="#c4504a" opacity="0.8"/><circle cx="526.7" cy="776.2" r="4.2" fill="#c4504a" opacity="0.8"/><circle cx="535.2" cy="777.2" r="3.8" fill="#c4504a" opacity="0.8"/><circle cx="385.8" cy="784.5" r="3.7" fill="#ea6c63" opacity="0.85"/><circle cx="396.0" cy="787.4" r="3.5" fill="#ea6c63" opacity="0.85"/><circle cx="407.4" cy="785.1" r="3.8" fill="#ea6c63" opacity="0.85"/><circle cx="416.6" cy="787.0" r="3.9" fill="#ea6c63" opacity="0.85"/><circle cx="423.8" cy="785.9" r="3.8" fill="#ea6c63" opacity="0.85"/><circle cx="436.1" cy="785.1" r="3.8" fill="#ea6c63" opacity="0.85"/><circle cx="445.6" cy="784.6" r="3.9" fill="#ea6c63" opacity="0.85"/><circle cx="454.9" cy="786.8" r="3.4" fill="#ea6c63" opacity="0.85"/><circle cx="462.2" cy="784.7" r="4.5" fill="#ea6c63" opacity="0.85"/><circle cx="472.5" cy="786.7" r="4.5" fill="#ea6c63" opacity="0.85"/><circle cx="482.3" cy="785.3" r="4.5" fill="#c4504a" opacity="0.8"/><circle cx="492.8" cy="785.3" r="4.3" fill="#c4504a" opacity="0.8"/><circle cx="501.4" cy="785.3" r="3.4" fill="#c4504a" opacity="0.8"/><circle cx="512.4" cy="787.2" r="4.2" fill="#c4504a" opacity="0.8"/><circle cx="522.5" cy="784.6" r="3.7" fill="#c4504a" opacity="0.8"/><circle cx="530.7" cy="787.4" r="4.5" fill="#c4504a" opacity="0.8"/><circle cx="381.7" cy="793.7" r="3.9" fill="#ea6c63" opacity="0.85"/><circle cx="391.6" cy="795.7" r="3.6" fill="#ea6c63" opacity="0.85"/><circle cx="402.1" cy="795.1" r="4.4" fill="#ea6c63" opacity="0.85"/><circle cx="411.6" cy="794.7" r="3.8" fill="#ea6c63" opacity="0.85"/><circle cx="419.9" cy="794.0" r="4.3" fill="#ea6c63" opacity="0.85"/><circle cx="428.7" cy="793.5" r="4.3" fill="#ea6c63" opacity="0.85"/><circle cx="438.8" cy="793.1" r="3.4" fill="#ea6c63" opacity="0.85"/><circle cx="449.4" cy="793.9" r="4.6" fill="#ea6c63" opacity="0.85"/><circle cx="460.0" cy="795.9" r="3.7" fill="#ea6c63" opacity="0.85"/><circle cx="467.2" cy="793.2" r="4.0" fill="#ea6c63" opacity="0.85"/><circle cx="478.6" cy="794.2" r="3.7" fill="#ea6c63" opacity="0.85"/><circle cx="487.4" cy="794.8" r="4.2" fill="#c4504a" opacity="0.8"/><circle cx="497.9" cy="795.4" r="4.2" fill="#c4504a" opacity="0.8"/><circle cx="505.7" cy="795.4" r="3.8" fill="#c4504a" opacity="0.8"/><circle cx="516.6" cy="794.0" r="4.3" fill="#c4504a" opacity="0.8"/><circle cx="525.1" cy="793.6" r="3.7" fill="#c4504a" opacity="0.8"/><circle cx="534.6" cy="795.6" r="4.1" fill="#c4504a" opacity="0.8"/></g><path d="M405.2,663.8 C402.0,665.1 397.7,668.6 395.0,673.0 C392.3,677.4 390.3,683.5 389.0,690.0 C387.7,696.5 387.4,704.2 387.0,712.0 C386.6,719.8 386.4,730.1 386.7,736.8 C387.0,743.5 387.9,747.3 389.0,752.0 C390.1,756.7 391.5,760.0 393.0,765.0 C394.5,770.0 396.2,777.3 398.0,782.0 C399.8,786.7 401.1,790.6 404.0,793.0 C406.9,795.4 412.0,796.9 415.7,796.6 C419.4,796.3 423.4,793.6 426.0,791.0 C428.6,788.4 429.2,784.0 431.0,781.0 C432.8,778.0 434.0,775.0 437.0,773.0 C440.0,771.0 443.9,769.7 449.2,769.0 C454.4,768.3 463.5,768.0 468.5,769.0 C473.5,770.0 476.1,772.0 479.0,775.0 C481.9,778.0 483.5,783.8 486.0,787.0 C488.5,790.2 491.1,792.4 494.0,794.0 C496.9,795.6 500.2,796.8 503.7,796.6 C507.2,796.4 511.9,795.4 515.0,793.0 C518.0,790.6 519.8,787.0 522.0,782.0 C524.2,777.0 526.5,769.4 528.3,763.2 C530.1,757.0 532.0,750.9 533.0,745.0 C534.0,739.1 534.3,733.8 534.5,728.0 C534.7,722.2 534.1,715.0 534.0,710.0 C533.9,705.0 534.1,702.2 533.6,698.0 C533.1,693.8 531.9,688.8 531.0,685.0 C530.1,681.2 529.8,678.4 528.3,675.2 C526.8,672.0 524.0,668.0 522.0,666.0 C520.0,664.0 518.3,663.7 516.0,663.5 C513.7,663.3 510.5,663.8 508.0,665.0 C505.5,666.2 502.9,668.1 501.0,671.0 C499.1,673.9 498.5,679.0 496.7,682.2 C494.9,685.4 492.4,687.6 490.0,690.0 C487.6,692.4 485.6,693.8 482.6,696.3 C479.6,698.8 475.5,702.8 472.0,705.0 C468.5,707.2 465.2,708.9 461.5,709.5 C457.8,710.1 453.5,709.4 450.0,708.5 C446.5,707.6 443.4,705.9 440.4,704.0 C437.4,702.1 434.2,699.3 432.0,697.0 C429.8,694.7 428.3,692.8 427.0,690.0 C425.7,687.2 425.0,683.0 424.0,680.0 C423.0,677.0 422.7,674.5 421.0,672.0 C419.3,669.5 416.6,666.4 414.0,665.0 C411.4,663.6 408.4,662.5 405.2,663.8 Z" fill="none" stroke="#8a2a28" stroke-width="1" opacity="0.6"/><defs><linearGradient id="al" gradientUnits="userSpaceOnUse" x1="378" y1="811" x2="338" y2="846"><stop offset="0" stop-color="#f4d8dc" stop-opacity="0.2"/><stop offset="0.25" stop-color="#e2aaa8" stop-opacity="0.8"/><stop offset="0.5" stop-color="#c87466"/><stop offset="0.62" stop-color="#b05a4f"/><stop offset="1" stop-color="#b05a4f"/></linearGradient><linearGradient id="ar" gradientUnits="userSpaceOnUse" x1="551" y1="807" x2="592" y2="842"><stop offset="0" stop-color="#f4d8dc" stop-opacity="0.2"/><stop offset="0.25" stop-color="#e2aaa8" stop-opacity="0.8"/><stop offset="0.5" stop-color="#c87466"/><stop offset="0.62" stop-color="#b05a4f"/><stop offset="1" stop-color="#b05a4f"/></linearGradient></defs><path d="M371.3,803.9 L384.3,819.6 L345.4,856.2 L352.3,865.9 L319,864.1 L320.4,828.9 L329.6,838.6 Z" fill="url(#al)"/><path d="M559.8,800.4 L597.8,833.2 L607,823 L608.4,857.8 L574.6,860.1 L583,850.4 L543.1,814.3 Z" fill="url(#ar)"/><defs><radialGradient id="g3" cx="0.42" cy="0.36" r="0.68"><stop offset="0" stop-color="#7de894"/><stop offset="0.35" stop-color="#5fd084"/><stop offset="0.75" stop-color="#2fa85c"/><stop offset="1" stop-color="#0e7a3c"/></radialGradient><radialGradient id="g4" cx="0.42" cy="0.36" r="0.68"><stop offset="0" stop-color="#c2aaec"/><stop offset="0.35" stop-color="#a080e0"/><stop offset="0.75" stop-color="#6a34c4"/><stop offset="1" stop-color="#4a0ca6"/></radialGradient><filter id="hb" x="-50%" y="-50%" width="200%" height="200%"><feGaussianBlur stdDeviation="1.5"/></filter></defs><circle cx="265.5" cy="909.6" r="62.4" fill="url(#g3)"/><ellipse cx="236" cy="868" rx="14" ry="5" transform="rotate(-35 236 868)" fill="#eaf8e8" opacity="0.85" filter="url(#hb)"/><circle cx="656.4" cy="914.7" r="62.5" fill="url(#g4)"/><ellipse cx="627" cy="873" rx="14" ry="5" transform="rotate(-35 627 873)" fill="#f0e8fa" opacity="0.85" filter="url(#hb)"/><text x="248.5" y="917.8" font-family="'Liberation Sans', sans-serif" font-size="35.5" font-weight="bold" fill="#fff">T</text><text x="269.5" y="930" font-family="'Liberation Sans', sans-serif" font-size="18.5" font-weight="bold" fill="#fff">3</text><text x="642" y="926.7" font-family="'Liberation Sans', sans-serif" font-size="35.5" font-weight="bold" fill="#fff">T</text><text x="662.5" y="938.3" font-family="'Liberation Sans', sans-serif" font-size="18.5" font-weight="bold" fill="#fff">4</text><line x1="386" y1="703" x2="168" y2="586" stroke="#e8141c" stroke-width="1.8"/><line x1="386" y1="703" x2="406" y2="698" stroke="#e8141c" stroke-width="1.6"/><path d="M160.6,582.6 L173,582 L167,592.5 Z" fill="#e8141c"/><text x="0" y="0" transform="translate(260.5,622) rotate(27)" font-family="'Liberation Sans', sans-serif" font-size="17.3" font-weight="bold" fill="#111">feedback</text><text x="134" y="696" text-anchor="middle" font-family="'Liberation Sans', sans-serif" font-size="17.4" font-weight="bold" fill="#22223c">Pituitary</text><text x="134" y="714.6" text-anchor="middle" font-family="'Liberation Sans', sans-serif" font-size="17.4" font-weight="bold" fill="#22223c">gland</text><text x="459" y="659.4" text-anchor="middle" font-family="'Liberation Sans', sans-serif" font-size="16.5" font-weight="bold" fill="#22223c">Thyroid</text><text x="459" y="680.5" text-anchor="middle" font-family="'Liberation Sans', sans-serif" font-size="16.5" font-weight="bold" fill="#22223c">gland</text><path d="M187,687 C188,715 205,740 244,753" fill="none" stroke="#111" stroke-width="2.6"/><path d="M292,758 C320,756 345,750 368,740" fill="none" stroke="#111" stroke-width="2.6"/><path d="M377.7,735.4 L359,733 L365,752 Z" fill="#111"/><rect x="244.5" y="745" width="47" height="21.5" fill="#fff" stroke="#6a5a5a" stroke-width="1.2"/><text x="268" y="763" text-anchor="middle" font-family="'Liberation Sans', sans-serif" font-size="17" fill="#222">TSH</text><text x="1648" y="967" font-family="'Liberation Sans', sans-serif" font-size="44" font-weight="bold" font-style="italic" fill="#39aa47" stroke="#39aa47" stroke-width="0.8" transform="translate(1648,0) scale(0.79,1) translate(-1648,0)">Dr. Varsha's</text><text x="1647" y="1005" font-family="'Liberation Sans', sans-serif" font-size="30" font-weight="bold" font-style="italic" fill="#222" stroke="#222" stroke-width="0.6" transform="translate(1647,0) scale(0.825,1) translate(-1647,0)">Health Solutions</text><ellipse cx="1607.8" cy="1012.3" rx="29.2" ry="15.6" fill="#39aa47"/><ellipse cx="1607.8" cy="1010.6" rx="26.4" ry="12.4" fill="#fff"/><circle cx="1606.1" cy="922.2" r="7.3" fill="#222"/><path d="M1580.0,930.0 C1578.9,930.4 1575.6,934.1 1574.4,936.7 C1573.2,939.3 1572.8,942.7 1572.6,945.6 C1572.4,948.5 1572.5,951.5 1573.3,954.4 C1574.1,957.3 1575.4,960.3 1577.2,963.3 C1579.0,966.3 1581.5,969.1 1583.9,972.2 C1586.3,975.4 1589.3,978.9 1591.7,982.2 C1594.1,985.5 1596.8,989.1 1598.3,992.2 C1599.8,995.4 1600.4,998.5 1600.6,1001.1 C1600.8,1003.7 1600.3,1006.1 1599.4,1007.8 C1598.5,1009.5 1594.6,1010.3 1595.0,1011.1 C1595.4,1011.9 1599.7,1013.0 1601.7,1012.8 C1603.7,1012.6 1605.9,1012.0 1607.2,1010.0 C1608.5,1008.0 1609.1,1004.1 1609.4,1001.1 C1609.7,998.1 1609.6,995.2 1608.9,992.2 C1608.2,989.2 1607.0,986.4 1605.0,983.3 C1603.0,980.1 1599.8,976.8 1597.2,973.3 C1594.6,969.8 1591.6,965.7 1589.4,962.2 C1587.2,958.7 1585.2,955.5 1583.9,952.2 C1582.6,948.9 1582.2,945.2 1581.7,942.2 C1581.2,939.2 1581.4,936.4 1581.1,934.4 C1580.8,932.4 1581.1,929.6 1580.0,930.0 Z" fill="#222"/><path d="M1593.3,921.7 C1592.4,921.5 1589.0,925.3 1587.8,927.8 C1586.6,930.3 1585.9,933.6 1586.1,936.7 C1586.3,939.9 1587.4,943.4 1588.9,946.7 C1590.4,950.0 1592.9,953.6 1595.0,956.7 C1597.1,959.9 1600.0,962.5 1601.7,965.6 C1603.4,968.8 1603.7,975.2 1605.0,975.6 C1606.3,976.0 1608.5,970.4 1609.4,967.8 C1610.3,965.2 1611.0,962.4 1610.6,960.0 C1610.2,957.6 1608.9,955.7 1607.2,953.3 C1605.5,950.9 1602.6,948.4 1600.6,945.6 C1598.6,942.8 1596.2,939.5 1595.0,936.7 C1593.8,933.9 1593.6,931.4 1593.3,928.9 C1593.0,926.4 1594.2,921.9 1593.3,921.7 Z" fill="#222"/><path d="M1655.0,916.7 C1654.6,916.2 1646.5,916.5 1642.8,917.8 C1639.1,919.1 1635.8,921.1 1632.8,924.4 C1629.8,927.7 1627.0,932.8 1625.0,937.8 C1623.0,942.8 1621.9,948.3 1620.6,954.4 C1619.3,960.5 1618.3,967.9 1617.2,974.4 C1616.1,980.9 1615.2,987.9 1613.9,993.3 C1612.6,998.7 1611.1,1003.5 1609.4,1006.7 C1607.7,1010.0 1603.6,1012.2 1603.9,1012.8 C1604.2,1013.3 1609.0,1011.8 1611.0,1010.0 C1613.0,1008.2 1614.2,1006.8 1615.6,1002.2 C1617.0,997.6 1618.2,989.2 1619.4,982.2 C1620.6,975.2 1621.5,966.7 1622.8,960.0 C1624.1,953.3 1625.2,947.4 1627.2,942.2 C1629.2,937.0 1632.0,932.4 1635.0,928.9 C1638.0,925.4 1641.7,923.1 1645.0,921.1 C1648.3,919.1 1655.4,917.2 1655.0,916.7 Z" fill="#222"/></svg>
<svg width="1920" height="1080" style="position:absolute;left:0;top:0"><path d="M1094,694.7 H931.6 V724.0" fill="none" stroke="#cf3c72" stroke-width="2.1"/><path d="M926.4,720.8 L931.6,729.0 L936.8000000000001,720.8 L931.6,723.2 Z" fill="#cf3c72"/><path d="M1194,694.7 H1355.6 V724.0" fill="none" stroke="#cf3c72" stroke-width="2.1"/><path d="M1350.3999999999999,720.8 L1355.6,729.0 L1360.8,720.8 L1355.6,723.2 Z" fill="#cf3c72"/><path d="M1144,711 V726.0" fill="none" stroke="#cf3c72" stroke-width="2.1"/><path d="M1138.8,722.8 L1144,731.0 L1149.2,722.8 L1144,725.2 Z" fill="#cf3c72"/><path d="M931.2,774 V803.0" fill="none" stroke="#cf3c72" stroke-width="2.1"/><path d="M926.0,799.8 L931.2,808.0 L936.4000000000001,799.8 L931.2,802.2 Z" fill="#cf3c72"/><path d="M1355,774 V803.0" fill="none" stroke="#cf3c72" stroke-width="2.1"/><path d="M1349.8,799.8 L1355,808.0 L1360.2,799.8 L1355,802.2 Z" fill="#cf3c72"/><path d="M880,836.5 H841.7 V866.3" fill="none" stroke="#cf3c72" stroke-width="2.1"/><path d="M836.5,863.0999999999999 L841.7,871.3 L846.9000000000001,863.0999999999999 L841.7,865.5 Z" fill="#cf3c72"/><path d="M980.5,836.5 H1019.8 V866.3" fill="none" stroke="#cf3c72" stroke-width="2.1"/><path d="M1014.5999999999999,863.0999999999999 L1019.8,871.3 L1025.0,863.0999999999999 L1019.8,865.5 Z" fill="#cf3c72"/><path d="M1304,836.5 H1264.3 V866.3" fill="none" stroke="#cf3c72" stroke-width="2.1"/><path d="M1259.1,863.0999999999999 L1264.3,871.3 L1269.5,863.0999999999999 L1264.3,865.5 Z" fill="#cf3c72"/><path d="M1404,836.5 H1442.7 V866.3" fill="none" stroke="#cf3c72" stroke-width="2.1"/><path d="M1437.5,863.0999999999999 L1442.7,871.3 L1447.9,863.0999999999999 L1442.7,865.5 Z" fill="#cf3c72"/><path d="M841.7,917 V946.7" fill="none" stroke="#cf3c72" stroke-width="2.1"/><path d="M836.5,943.5 L841.7,951.7 L846.9000000000001,943.5 L841.7,945.9000000000001 Z" fill="#cf3c72"/><path d="M1019.8,917 V946.7" fill="none" stroke="#cf3c72" stroke-width="2.1"/><path d="M1014.5999999999999,943.5 L1019.8,951.7 L1025.0,943.5 L1019.8,945.9000000000001 Z" fill="#cf3c72"/><path d="M1266.7,917 V946.7" fill="none" stroke="#cf3c72" stroke-width="2.1"/><path d="M1261.5,943.5 L1266.7,951.7 L1271.9,943.5 L1266.7,945.9000000000001 Z" fill="#cf3c72"/><path d="M1442.7,917 V946.7" fill="none" stroke="#cf3c72" stroke-width="2.1"/><path d="M1437.5,943.5 L1442.7,951.7 L1447.9,943.5 L1442.7,945.9000000000001 Z" fill="#cf3c72"/></svg>
<div style="position:absolute;left:445px;top:65px;width:1076px;height:69px;border:3px solid #606060;background:#e6e6e6"></div>
<div class="t" style="top:80.27px;font-size:44.8px;line-height:44.8px;left:586.00px;width:800px;text-align:center;">Understanding Thyroid Function</div>
<div class="t" style="top:337.69px;font-size:26px;line-height:26px;font-weight:bold;left:191.30px;width:800px;text-align:center;">1 in 8-10 women can</div>
<div class="t" style="top:373.49px;font-size:26px;line-height:26px;font-weight:bold;left:191.30px;width:800px;text-align:center;">develop thyroid disorders</div>
<div class="t" style="top:409.79px;font-size:26px;line-height:26px;font-weight:bold;left:191.80px;width:800px;text-align:center;">(5 times &gt; risk than men)</div>
<div class="t" style="top:164.23px;font-size:27.6px;line-height:27.6px;font-weight:bold;left:911.00px;width:800px;text-align:center;">Symptoms</div>
<div style="position:absolute;left:777px;top:193px;width:529px;height:35px;background:#a8d08d"></div>
<div style="position:absolute;left:1306px;top:193px;width:553px;height:35px;background:#f4b183"></div>
<div style="position:absolute;left:777px;top:228px;width:529px;height:421px;background:#e2eed9"></div>
<div style="position:absolute;left:1306px;top:228px;width:553px;height:421px;background:#fbe4d6"></div>
<div style="position:absolute;left:777px;top:192.2px;width:1082px;height:1.6px;background:#1a1a1a"></div>
<div style="position:absolute;left:777px;top:227.5px;width:1082px;height:1.5px;background:#111"></div>
<div style="position:absolute;left:777px;top:193px;width:1px;height:456px;background:#5a5a5a"></div>
<div style="position:absolute;left:1305.5px;top:193px;width:1.2px;height:456px;background:#5a5a5a"></div>
<div style="position:absolute;left:1858px;top:193px;width:1px;height:456px;background:#6a6a6a"></div>
<div style="position:absolute;left:777px;top:648.5px;width:1082px;height:1px;background:#7a7a7a"></div>
<div class="t" style="top:199.94px;font-size:24.4px;line-height:24.4px;font-weight:bold;left:642.00px;width:800px;text-align:center;">Hypothyroid</div>
<div class="t" style="top:199.94px;font-size:24.4px;line-height:24.4px;font-weight:bold;left:1183.00px;width:800px;text-align:center;">Hyperthyroid</div>
<div class="t" style="top:235.38px;font-size:25.3px;line-height:25.3px;left:836.50px;">Tiredness, Weakness, lethargy,</div>
<div class="bl" style="left:792.6px;top:243.6px"></div>
<div class="t" style="top:268.18px;font-size:25.3px;line-height:25.3px;left:836.50px;">decreased reflexes</div>
<div class="t" style="top:303.38px;font-size:25.3px;line-height:25.3px;left:836.50px;">Poor concentration and memory</div>
<div class="bl" style="left:792.6px;top:311.6px"></div>
<div class="t" style="top:338.38px;font-size:25.3px;line-height:25.3px;left:836.50px;">Dry, coarse skin and hair</div>
<div class="bl" style="left:792.6px;top:346.6px"></div>
<div class="t" style="top:373.68px;font-size:25.3px;line-height:25.3px;left:836.50px;">Cold intolerance, cold body extremities</div>
<div class="bl" style="left:792.6px;top:381.9px"></div>
<div class="t" style="top:408.78px;font-size:25.3px;line-height:25.3px;left:836.50px;">Abnormal skin sensations like tingling,</div>
<div class="bl" style="left:792.6px;top:417.0px"></div>
<div class="t" style="top:442.88px;font-size:25.3px;line-height:25.3px;left:836.50px;">poking, numbness, chilling or burning.</div>
<div class="t" style="top:477.48px;font-size:25.3px;line-height:25.3px;left:836.50px;">Constipation</div>
<div class="bl" style="left:792.6px;top:485.7px"></div>
<div class="t" style="top:512.88px;font-size:25.3px;line-height:25.3px;left:836.50px;">Weight gain with poor appetite</div>
<div class="bl" style="left:792.6px;top:521.1px"></div>
<div class="t" style="top:547.88px;font-size:25.3px;line-height:25.3px;left:836.50px;">Swelling/puffiness of hands, feet or face</div>
<div class="bl" style="left:792.6px;top:556.1px"></div>
<div class="t" style="top:582.88px;font-size:25.3px;line-height:25.3px;left:836.50px;">Decrease in heart rate</div>
<div class="bl" style="left:792.6px;top:591.1px"></div>
<div class="t" style="top:618.28px;font-size:25.3px;line-height:25.3px;left:836.50px;">Heavy, frequent periods in women</div>
<div class="bl" style="left:792.6px;top:626.5px"></div>
<div class="t" style="top:235.08px;font-size:25.3px;line-height:25.3px;left:1366.40px;">Hyperactivity followed by fatigue,</div>
<div class="bl" style="left:1322.6px;top:243.3px"></div>
<div class="t" style="top:268.18px;font-size:25.3px;line-height:25.3px;left:1366.40px;">weakness</div>
<div class="t" style="top:303.18px;font-size:25.3px;line-height:25.3px;left:1366.40px;">Anxiety, irritability, sleeplessness</div>
<div class="bl" style="left:1322.6px;top:311.4px"></div>
<div class="t" style="top:338.38px;font-size:25.3px;line-height:25.3px;left:1366.40px;">Thick skin, increased sweating, hair loss</div>
<div class="bl" style="left:1322.6px;top:346.6px"></div>
<div class="t" style="top:373.78px;font-size:25.3px;line-height:25.3px;left:1366.40px;">Heat intolerance, warm body extremities</div>
<div class="bl" style="left:1322.6px;top:382.0px"></div>
<div class="t" style="top:408.78px;font-size:25.3px;line-height:25.3px;left:1366.40px;">Tremors, muscle weakness</div>
<div class="bl" style="left:1322.6px;top:417.0px"></div>
<div class="t" style="top:444.28px;font-size:25.3px;line-height:25.3px;left:1366.40px;">Lid retraction or eyes appearing bulgy</div>
<div class="bl" style="left:1322.6px;top:452.5px"></div>
<div class="t" style="top:479.48px;font-size:25.3px;line-height:25.3px;left:1366.40px;">Diarrhea</div>
<div class="bl" style="left:1322.6px;top:487.7px"></div>
<div class="t" style="top:513.98px;font-size:25.3px;line-height:25.3px;left:1366.40px;">Weight loss and increased appetite</div>
<div class="bl" style="left:1322.6px;top:522.2px"></div>
<div class="t" style="top:549.58px;font-size:25.3px;line-height:25.3px;left:1366.40px;">Lean, thin look</div>
<div class="bl" style="left:1322.6px;top:557.8px"></div>
<div class="t" style="top:584.48px;font-size:25.3px;line-height:25.3px;left:1366.40px;">Increase in heart rate (palpitations)</div>
<div class="bl" style="left:1322.6px;top:592.7px"></div>
<div class="t" style="top:619.08px;font-size:25.3px;line-height:25.3px;left:1366.40px;">Scanty, infrequent periods in women</div>
<div class="bl" style="left:1322.6px;top:627.3px"></div>
<div class="t" style="top:528.26px;font-size:15.05px;line-height:15.05px;color:#24243a;left:459.60px;">TSH = Thyroid-stimulating hormone</div>
<div class="t" style="top:550.86px;font-size:15.05px;line-height:15.05px;color:#24243a;left:459.60px;">T3 = Triiodothyronine hormone</div>
<div class="t" style="top:572.76px;font-size:15.05px;line-height:15.05px;color:#24243a;left:459.60px;">T4 = Thyroxine hormone</div>
<div class="t" style="top:714.90px;font-size:26.1px;line-height:26.1px;left:1327.50px;width:800px;text-align:center;">Detailed article on</div>
<div class="t" style="top:750.01px;font-size:25.5px;line-height:25.5px;font-weight:bold;left:1327.50px;width:800px;text-align:center;">www.drvarsha.com</div>
<div class="t" style="top:841.15px;font-size:21.2px;line-height:21.2px;font-style:italic;left:1327.50px;width:800px;text-align:center;">Public Health Awareness</div>
<div class="t" style="top:868.50px;font-size:22.8px;line-height:22.8px;font-style:italic;left:1328.80px;width:800px;text-align:center;">from</div>
<div style="position:absolute;box-sizing:border-box;left:1093.9px;top:672.2px;width:100.5px;height:38.6px;background:#fcd09f;border:2px solid #737373"></div>
<div style="position:absolute;box-sizing:border-box;left:879.4px;top:735.2px;width:101.5px;height:38.8px;background:#fcd09f;border:2px solid #737373"></div>
<div style="position:absolute;box-sizing:border-box;left:1093.9px;top:735.2px;width:100.5px;height:38.8px;background:#fcd09f;border:2px solid #737373"></div>
<div style="position:absolute;box-sizing:border-box;left:1303.4px;top:735.2px;width:101.0px;height:38.8px;background:#fcd09f;border:2px solid #737373"></div>
<div style="position:absolute;box-sizing:border-box;left:879.4px;top:814.2px;width:101.5px;height:38.9px;background:#fcd09f;border:2px solid #737373"></div>
<div style="position:absolute;box-sizing:border-box;left:1303.4px;top:814.2px;width:101.0px;height:38.9px;background:#fcd09f;border:2px solid #737373"></div>
<div style="position:absolute;box-sizing:border-box;left:783.8px;top:877.6px;width:101.8px;height:39.5px;background:#fcd09f;border:2px solid #737373"></div>
<div style="position:absolute;box-sizing:border-box;left:971.4px;top:877.6px;width:101.0px;height:39.5px;background:#fcd09f;border:2px solid #737373"></div>
<div style="position:absolute;box-sizing:border-box;left:1214.4px;top:877.6px;width:101.8px;height:39.5px;background:#fcd09f;border:2px solid #737373"></div>
<div style="position:absolute;box-sizing:border-box;left:1395.1px;top:877.6px;width:101.3px;height:39.5px;background:#fcd09f;border:2px solid #737373"></div>
<div style="position:absolute;box-sizing:border-box;left:752.2px;top:958.2px;width:186.8px;height:38.8px;background:#fcd09f;border:2px solid #737373"></div>
<div style="position:absolute;box-sizing:border-box;left:944.9px;top:958.2px;width:180.0px;height:72.1px;background:#fcd09f;border:2px solid #737373"></div>
<div style="position:absolute;box-sizing:border-box;left:1164.4px;top:958.2px;width:179.6px;height:72.1px;background:#fcd09f;border:2px solid #737373"></div>
<div style="position:absolute;box-sizing:border-box;left:1350.2px;top:958.2px;width:186.0px;height:38.8px;background:#fcd09f;border:2px solid #737373"></div>
<div class="t" style="top:680.61px;font-size:24.2px;line-height:24.2px;color:#16165e;left:744.30px;width:800px;text-align:center;-webkit-text-stroke:0.35px #16165e;">TSH</div>
<div class="t" style="top:744.51px;font-size:24.2px;line-height:24.2px;color:#16165e;left:530.80px;width:800px;text-align:center;-webkit-text-stroke:0.35px #16165e;">High</div>
<div class="t" style="top:744.51px;font-size:24.2px;line-height:24.2px;color:#16165e;left:744.70px;width:800px;text-align:center;-webkit-text-stroke:0.35px #16165e;">Normal</div>
<div class="t" style="top:744.51px;font-size:24.2px;line-height:24.2px;color:#16165e;left:954.80px;width:800px;text-align:center;-webkit-text-stroke:0.35px #16165e;">Low</div>
<div class="t" style="top:822.51px;font-size:24.2px;line-height:24.2px;color:#16165e;left:530.80px;width:800px;text-align:center;-webkit-text-stroke:0.35px #16165e;">Free T4</div>
<div class="t" style="top:822.51px;font-size:24.2px;line-height:24.2px;color:#16165e;left:953.60px;width:800px;text-align:center;-webkit-text-stroke:0.35px #16165e;">Free T4</div>
<div class="t" style="top:886.51px;font-size:24.2px;line-height:24.2px;color:#16165e;left:435.00px;width:800px;text-align:center;-webkit-text-stroke:0.35px #16165e;">Low</div>
<div class="t" style="top:886.51px;font-size:24.2px;line-height:24.2px;color:#16165e;left:622.00px;width:800px;text-align:center;-webkit-text-stroke:0.35px #16165e;">Normal</div>
<div class="t" style="top:886.51px;font-size:24.2px;line-height:24.2px;color:#16165e;left:865.50px;width:800px;text-align:center;-webkit-text-stroke:0.35px #16165e;">Normal</div>
<div class="t" style="top:886.51px;font-size:24.2px;line-height:24.2px;color:#16165e;left:1046.40px;width:800px;text-align:center;-webkit-text-stroke:0.35px #16165e;">High</div>
<div class="t" style="top:966.41px;font-size:24.2px;line-height:24.2px;color:#16165e;left:445.70px;width:800px;text-align:center;-webkit-text-stroke:0.35px #16165e;">Hypothyroidism</div>
<div class="t" style="top:966.41px;font-size:24.2px;line-height:24.2px;color:#16165e;left:634.70px;width:800px;text-align:center;-webkit-text-stroke:0.35px #16165e;">Subclinical</div>
<div class="t" style="top:997.61px;font-size:24.2px;line-height:24.2px;color:#16165e;left:634.70px;width:800px;text-align:center;-webkit-text-stroke:0.35px #16165e;">Hypothyroidism</div>
<div class="t" style="top:966.41px;font-size:24.2px;line-height:24.2px;color:#16165e;left:855.20px;width:800px;text-align:center;-webkit-text-stroke:0.35px #16165e;">Subclinical</div>
<div class="t" style="top:997.61px;font-size:24.2px;line-height:24.2px;color:#16165e;left:854.80px;width:800px;text-align:center;-webkit-text-stroke:0.35px #16165e;">Hyperthyroidism</div>
<div class="t" style="top:966.41px;font-size:24.2px;line-height:24.2px;color:#16165e;left:1043.30px;width:800px;text-align:center;-webkit-text-stroke:0.35px #16165e;">Hyperthyroidism</div>
<div class="t" style="top:969.74px;font-size:28.3px;line-height:28.3px;left:51.70px;width:800px;text-align:center;">Control of thyroid gland</div>
<div class="t" style="top:814.69px;font-size:27.3px;line-height:27.3px;left:746.50px;width:800px;text-align:center;">Lab tests</div>

</body></html>
